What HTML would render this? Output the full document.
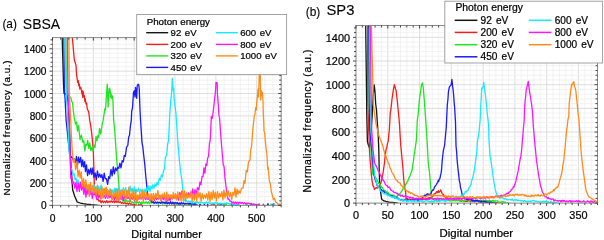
<!DOCTYPE html>
<html><head><meta charset="utf-8"><style>
html,body{margin:0;padding:0;background:#fff;}
svg{display:block;will-change:transform;}
text{font-family:"Liberation Sans", sans-serif;fill:#000;stroke:#000;stroke-width:0.22px;}
</style></head><body>
<svg width="604" height="240" viewBox="0 0 604 240">
<line x1="60.67" y1="37.60" x2="60.67" y2="205.35" stroke="#efefef" stroke-width="0.8"/>
<line x1="68.84" y1="37.60" x2="68.84" y2="205.35" stroke="#efefef" stroke-width="0.8"/>
<line x1="77.00" y1="37.60" x2="77.00" y2="205.35" stroke="#efefef" stroke-width="0.8"/>
<line x1="85.17" y1="37.60" x2="85.17" y2="205.35" stroke="#efefef" stroke-width="0.8"/>
<line x1="93.34" y1="37.60" x2="93.34" y2="205.35" stroke="#d4d4d4" stroke-width="0.8"/>
<line x1="101.51" y1="37.60" x2="101.51" y2="205.35" stroke="#efefef" stroke-width="0.8"/>
<line x1="109.67" y1="37.60" x2="109.67" y2="205.35" stroke="#efefef" stroke-width="0.8"/>
<line x1="117.84" y1="37.60" x2="117.84" y2="205.35" stroke="#efefef" stroke-width="0.8"/>
<line x1="126.01" y1="37.60" x2="126.01" y2="205.35" stroke="#efefef" stroke-width="0.8"/>
<line x1="134.18" y1="37.60" x2="134.18" y2="205.35" stroke="#d4d4d4" stroke-width="0.8"/>
<line x1="142.35" y1="37.60" x2="142.35" y2="205.35" stroke="#efefef" stroke-width="0.8"/>
<line x1="150.51" y1="37.60" x2="150.51" y2="205.35" stroke="#efefef" stroke-width="0.8"/>
<line x1="158.68" y1="37.60" x2="158.68" y2="205.35" stroke="#efefef" stroke-width="0.8"/>
<line x1="166.85" y1="37.60" x2="166.85" y2="205.35" stroke="#efefef" stroke-width="0.8"/>
<line x1="175.02" y1="37.60" x2="175.02" y2="205.35" stroke="#d4d4d4" stroke-width="0.8"/>
<line x1="183.19" y1="37.60" x2="183.19" y2="205.35" stroke="#efefef" stroke-width="0.8"/>
<line x1="191.35" y1="37.60" x2="191.35" y2="205.35" stroke="#efefef" stroke-width="0.8"/>
<line x1="199.52" y1="37.60" x2="199.52" y2="205.35" stroke="#efefef" stroke-width="0.8"/>
<line x1="207.69" y1="37.60" x2="207.69" y2="205.35" stroke="#efefef" stroke-width="0.8"/>
<line x1="215.86" y1="37.60" x2="215.86" y2="205.35" stroke="#d4d4d4" stroke-width="0.8"/>
<line x1="224.03" y1="37.60" x2="224.03" y2="205.35" stroke="#efefef" stroke-width="0.8"/>
<line x1="232.19" y1="37.60" x2="232.19" y2="205.35" stroke="#efefef" stroke-width="0.8"/>
<line x1="240.36" y1="37.60" x2="240.36" y2="205.35" stroke="#efefef" stroke-width="0.8"/>
<line x1="248.53" y1="37.60" x2="248.53" y2="205.35" stroke="#efefef" stroke-width="0.8"/>
<line x1="256.70" y1="37.60" x2="256.70" y2="205.35" stroke="#d4d4d4" stroke-width="0.8"/>
<line x1="264.86" y1="37.60" x2="264.86" y2="205.35" stroke="#efefef" stroke-width="0.8"/>
<line x1="273.03" y1="37.60" x2="273.03" y2="205.35" stroke="#efefef" stroke-width="0.8"/>
<line x1="52.50" y1="200.88" x2="281.20" y2="200.88" stroke="#efefef" stroke-width="0.8"/>
<line x1="52.50" y1="196.40" x2="281.20" y2="196.40" stroke="#efefef" stroke-width="0.8"/>
<line x1="52.50" y1="191.93" x2="281.20" y2="191.93" stroke="#efefef" stroke-width="0.8"/>
<line x1="52.50" y1="187.46" x2="281.20" y2="187.46" stroke="#efefef" stroke-width="0.8"/>
<line x1="52.50" y1="182.98" x2="281.20" y2="182.98" stroke="#d4d4d4" stroke-width="0.8"/>
<line x1="52.50" y1="178.51" x2="281.20" y2="178.51" stroke="#efefef" stroke-width="0.8"/>
<line x1="52.50" y1="174.04" x2="281.20" y2="174.04" stroke="#efefef" stroke-width="0.8"/>
<line x1="52.50" y1="169.56" x2="281.20" y2="169.56" stroke="#efefef" stroke-width="0.8"/>
<line x1="52.50" y1="165.09" x2="281.20" y2="165.09" stroke="#efefef" stroke-width="0.8"/>
<line x1="52.50" y1="160.62" x2="281.20" y2="160.62" stroke="#d4d4d4" stroke-width="0.8"/>
<line x1="52.50" y1="156.14" x2="281.20" y2="156.14" stroke="#efefef" stroke-width="0.8"/>
<line x1="52.50" y1="151.67" x2="281.20" y2="151.67" stroke="#efefef" stroke-width="0.8"/>
<line x1="52.50" y1="147.20" x2="281.20" y2="147.20" stroke="#efefef" stroke-width="0.8"/>
<line x1="52.50" y1="142.72" x2="281.20" y2="142.72" stroke="#efefef" stroke-width="0.8"/>
<line x1="52.50" y1="138.25" x2="281.20" y2="138.25" stroke="#d4d4d4" stroke-width="0.8"/>
<line x1="52.50" y1="133.78" x2="281.20" y2="133.78" stroke="#efefef" stroke-width="0.8"/>
<line x1="52.50" y1="129.30" x2="281.20" y2="129.30" stroke="#efefef" stroke-width="0.8"/>
<line x1="52.50" y1="124.83" x2="281.20" y2="124.83" stroke="#efefef" stroke-width="0.8"/>
<line x1="52.50" y1="120.36" x2="281.20" y2="120.36" stroke="#efefef" stroke-width="0.8"/>
<line x1="52.50" y1="115.88" x2="281.20" y2="115.88" stroke="#d4d4d4" stroke-width="0.8"/>
<line x1="52.50" y1="111.41" x2="281.20" y2="111.41" stroke="#efefef" stroke-width="0.8"/>
<line x1="52.50" y1="106.94" x2="281.20" y2="106.94" stroke="#efefef" stroke-width="0.8"/>
<line x1="52.50" y1="102.46" x2="281.20" y2="102.46" stroke="#efefef" stroke-width="0.8"/>
<line x1="52.50" y1="97.99" x2="281.20" y2="97.99" stroke="#efefef" stroke-width="0.8"/>
<line x1="52.50" y1="93.52" x2="281.20" y2="93.52" stroke="#d4d4d4" stroke-width="0.8"/>
<line x1="52.50" y1="89.04" x2="281.20" y2="89.04" stroke="#efefef" stroke-width="0.8"/>
<line x1="52.50" y1="84.57" x2="281.20" y2="84.57" stroke="#efefef" stroke-width="0.8"/>
<line x1="52.50" y1="80.10" x2="281.20" y2="80.10" stroke="#efefef" stroke-width="0.8"/>
<line x1="52.50" y1="75.62" x2="281.20" y2="75.62" stroke="#efefef" stroke-width="0.8"/>
<line x1="52.50" y1="71.15" x2="281.20" y2="71.15" stroke="#d4d4d4" stroke-width="0.8"/>
<line x1="52.50" y1="66.68" x2="281.20" y2="66.68" stroke="#efefef" stroke-width="0.8"/>
<line x1="52.50" y1="62.20" x2="281.20" y2="62.20" stroke="#efefef" stroke-width="0.8"/>
<line x1="52.50" y1="57.73" x2="281.20" y2="57.73" stroke="#efefef" stroke-width="0.8"/>
<line x1="52.50" y1="53.26" x2="281.20" y2="53.26" stroke="#efefef" stroke-width="0.8"/>
<line x1="52.50" y1="48.78" x2="281.20" y2="48.78" stroke="#d4d4d4" stroke-width="0.8"/>
<line x1="52.50" y1="44.31" x2="281.20" y2="44.31" stroke="#efefef" stroke-width="0.8"/>
<line x1="52.50" y1="39.84" x2="281.20" y2="39.84" stroke="#efefef" stroke-width="0.8"/>
<clipPath id="clipa"><rect x="52.50" y="37.60" width="228.70" height="167.75"/></clipPath>
<g clip-path="url(#clipa)">
<path d="M52.5,-300.0 L53.6,-262.4 L54.7,-224.9 L55.7,-187.3 L56.8,-149.8 L57.9,-112.2 L59.0,-74.7 L60.0,-37.1 L61.1,0.4 L62.2,38.0 L63.5,84.0 L64.0,93.5 L65.3,93.9 L66.7,94.3 L67.3,97.0 L68.0,102.0 L69.3,124.0 L70.2,150.0 L71.5,175.0 L72.7,190.0 L73.7,193.0 L74.6,196.0 L75.9,199.0 L77.2,202.0 L78.2,202.3 L79.2,202.7 L80.2,203.0 L81.2,203.3 L82.3,203.5 L83.3,203.7 L84.4,203.8 L85.4,204.0 L86.5,204.2 L87.6,204.3 L88.8,204.4 L89.9,204.5 L91.0,204.7 L92.1,204.8 L93.3,204.9 L94.4,205.0 L95.5,205.1 L96.6,205.2 L97.8,205.4 L98.9,205.5 L100.0,205.6 L101.1,205.7 L102.2,205.8 L103.3,205.9 L104.4,206.0 L105.6,206.1 L106.7,206.2 L107.8,206.3 L108.9,206.4 L110.0,206.5 L111.1,206.5 L112.2,206.5 L113.3,206.5 L114.4,206.5 L115.5,206.5 L116.6,206.5 L117.7,206.5 L118.8,206.5 L119.9,206.5 L121.0,206.5 L122.1,206.5 L123.2,206.5 L124.3,206.5 L125.4,206.5 L126.5,206.5 L127.7,206.5 L128.8,206.5 L129.9,206.5 L131.0,206.5 L132.1,206.5 L133.2,206.5 L134.3,206.5 L135.4,206.5 L136.5,206.5 L137.6,206.5 L138.7,206.5 L139.8,206.5 L140.9,206.5 L142.0,206.5 L143.1,206.5 L144.2,206.5 L145.3,206.5 L146.4,206.5 L147.5,206.5 L148.6,206.5 L149.7,206.5 L150.8,206.5 L151.9,206.5 L153.0,206.5 L154.1,206.5 L155.2,206.5 L156.3,206.5 L157.4,206.5 L158.5,206.5 L159.6,206.5 L160.7,206.5 L161.9,206.5 L163.0,206.5 L164.1,206.5 L165.2,206.5 L166.3,206.5 L167.4,206.5 L168.5,206.5 L169.6,206.5 L170.7,206.5 L171.8,206.5 L172.9,206.5 L174.0,206.5 L175.1,206.5 L176.2,206.5 L177.3,206.5 L178.4,206.5 L179.5,206.5 L180.6,206.5 L181.7,206.5 L182.8,206.5 L183.9,206.5 L185.0,206.5 L186.1,206.5 L187.2,206.5 L188.3,206.5 L189.4,206.5 L190.5,206.5 L191.6,206.5 L192.7,206.5 L193.8,206.5 L194.9,206.5 L196.1,206.5 L197.2,206.5 L198.3,206.5 L199.4,206.5 L200.5,206.5 L201.6,206.5 L202.7,206.5 L203.8,206.5 L204.9,206.5 L206.0,206.5 L207.1,206.5 L208.2,206.5 L209.3,206.5 L210.4,206.5 L211.5,206.5 L212.6,206.5 L213.7,206.5 L214.8,206.5 L215.9,206.5 L217.0,206.5 L218.1,206.5 L219.2,206.5 L220.3,206.5 L221.4,206.5 L222.5,206.5 L223.6,206.5 L224.7,206.5 L225.8,206.5 L226.9,206.5 L228.0,206.5 L229.1,206.5 L230.3,206.5 L231.4,206.5 L232.5,206.5 L233.6,206.5 L234.7,206.5 L235.8,206.5 L236.9,206.5 L238.0,206.5 L239.1,206.5 L240.2,206.5 L241.3,206.5 L242.4,206.5 L243.5,206.5 L244.6,206.5 L245.7,206.5 L246.8,206.5 L247.9,206.5 L249.0,206.5 L250.1,206.5 L251.2,206.5 L252.3,206.5 L253.4,206.5 L254.5,206.5 L255.6,206.5 L256.7,206.5 L257.8,206.5 L258.9,206.5 L260.0,206.5 L261.1,206.5 L262.2,206.5 L263.3,206.5 L264.5,206.5 L265.6,206.5 L266.7,206.5 L267.8,206.5 L268.9,206.5 L270.0,206.5 L271.1,206.5 L272.2,206.5 L273.3,206.5 L274.4,206.5 L275.5,206.5 L276.6,206.5 L277.7,206.5 L278.8,206.5 L279.9,206.5 L281.0,206.5" fill="none" stroke="#141414" stroke-width="1.3" stroke-linejoin="round"/>
<path d="M52.5,-300.0 L53.6,-281.2 L54.7,-262.4 L55.8,-243.7 L56.9,-224.9 L58.0,-206.1 L59.1,-187.3 L60.2,-168.6 L61.3,-149.8 L62.5,-131.0 L63.6,-112.2 L64.7,-93.4 L65.8,-74.7 L66.9,-55.9 L68.0,-37.1 L69.1,-18.3 L70.2,0.4 L71.3,19.2 L72.4,38.0 L73.4,49.6 L74.4,60.3 L76.0,65.1 L76.5,74.3 L77.7,82.3 L78.3,80.5 L78.7,85.7 L79.3,84.0 L79.8,89.0 L80.7,87.3 L81.5,90.7 L82.0,94.0 L82.4,91.0 L82.7,97.3 L83.2,91.5 L83.8,97.0 L84.3,95.7 L84.8,101.5 L85.3,99.0 L86.0,104.0 L86.6,103.0 L87.3,109.0 L88.7,111.9 L89.8,120.9 L90.8,126.1 L91.9,135.1 L93.3,150.0 L94.0,172.2 L94.3,183.5 L95.0,194.4 L96.0,194.9 L97.0,199.7 L98.0,199.3 L99.0,201.2 L100.0,200.4 L101.1,202.6 L102.2,200.9 L103.4,202.6 L104.5,201.4 L105.6,202.7 L106.8,200.7 L107.9,202.7 L109.0,201.3 L110.1,202.2 L111.2,200.8 L112.4,202.3 L113.5,200.9 L114.6,202.6 L115.8,201.0 L116.9,202.4 L118.0,201.3 L119.2,202.6 L120.3,201.7 L121.5,203.4 L122.7,202.5 L123.8,203.6 L125.0,202.3 L126.1,204.0 L127.2,202.9 L128.3,204.4 L129.4,203.0 L130.6,204.2 L131.7,203.8 L132.8,205.1 L133.9,204.1 L135.0,204.9 L136.0,204.9 L137.0,205.3 L138.0,205.8 L139.0,204.4 L140.0,206.6 L141.1,203.8 L142.2,206.6 L143.3,206.6 L144.4,206.6 L145.5,206.6 L146.6,206.6 L147.7,206.6 L148.8,206.6 L149.9,206.6 L151.0,206.6 L152.1,206.6 L153.2,206.6 L154.3,206.6 L155.4,206.6 L156.5,206.6 L157.6,206.6 L158.7,206.6 L159.8,206.6 L160.9,206.6 L162.0,206.6 L163.1,206.6 L164.2,206.6 L165.3,206.6 L166.4,206.6 L167.5,206.6 L168.6,206.6 L169.7,206.6 L170.8,206.6 L171.9,206.6 L173.0,206.6 L174.1,204.6 L175.2,206.6 L176.4,206.6 L177.5,206.6 L178.6,206.6 L179.7,204.3 L180.8,204.4 L181.9,206.6 L183.0,206.6 L184.1,206.6 L185.2,206.6 L186.3,206.6 L187.4,206.6 L188.5,206.6 L189.6,203.6 L190.7,206.6 L191.8,206.6 L192.9,206.6 L194.0,203.9 L195.1,206.6 L196.2,206.6 L197.3,206.6 L198.4,206.6 L199.5,206.6 L200.6,206.6 L201.7,206.6 L202.8,206.6 L203.9,206.6 L205.0,206.6 L206.1,206.6 L207.2,206.6 L208.3,206.6 L209.4,206.6 L210.5,206.6 L211.6,204.0 L212.7,206.6 L213.8,203.8 L214.9,205.1 L216.0,206.6 L217.1,206.6 L218.2,203.6 L219.3,206.6 L220.4,206.6 L221.5,204.7 L222.6,206.6 L223.7,204.3 L224.8,203.9 L225.9,206.6 L227.0,206.6 L228.1,206.6 L229.2,206.6 L230.3,206.6 L231.4,206.6 L232.5,206.6 L233.6,204.4 L234.7,206.6 L235.8,206.6 L236.9,204.0 L238.0,206.6 L239.1,206.6 L240.2,206.6 L241.3,206.6 L242.4,206.6 L243.5,206.6 L244.6,206.6 L245.8,206.6 L246.9,206.6 L248.0,206.6 L249.1,206.6 L250.2,206.6 L251.3,206.6 L252.4,206.6 L253.5,206.6 L254.6,206.6 L255.7,206.6 L256.8,206.6 L257.9,206.6 L259.0,204.9 L260.1,206.6 L261.2,206.6 L262.3,206.6 L263.4,204.2 L264.5,206.6 L265.6,206.6 L266.7,206.6 L267.8,206.6 L268.9,206.6 L270.0,206.6 L271.1,206.6 L272.2,206.6 L273.3,206.6 L274.4,206.6 L275.5,206.6 L276.6,206.6 L277.7,206.6 L278.8,206.6 L279.9,204.2 L281.0,206.6" fill="none" stroke="#ff1a1a" stroke-width="1.3" stroke-linejoin="round"/>
<path d="M52.5,-300.0 L53.6,-271.8 L54.7,-243.7 L55.8,-215.5 L56.9,-187.3 L58.0,-159.2 L59.1,-131.0 L60.3,-102.8 L61.4,-74.7 L62.5,-46.5 L63.6,-18.3 L64.7,9.8 L65.8,38.0 L66.3,86.0 L67.0,92.0 L68.5,94.8 L69.6,96.7 L70.7,97.3 L71.6,101.2 L72.5,102.5 L73.3,110.4 L74.4,118.7 L75.5,124.0 L76.5,122.0 L77.5,131.0 L78.6,125.4 L80.0,139.5 L81.4,135.1 L82.8,142.2 L83.8,140.7 L84.8,150.9 L85.8,144.3 L86.7,145.3 L87.7,140.5 L88.8,148.4 L89.8,143.2 L90.8,150.5 L91.9,147.6 L93.0,151.0 L94.0,144.9 L95.0,147.5 L96.0,136.5 L96.9,140.8 L97.8,135.6 L98.7,137.5 L99.5,128.4 L100.8,134.0 L102.0,125.4 L103.0,120.9 L104.2,113.3 L105.0,108.3 L105.6,110.0 L106.1,100.0 L106.7,92.0 L107.2,84.2 L107.7,96.0 L108.1,107.0 L108.6,96.0 L109.2,88.3 L110.0,89.2 L110.5,97.0 L110.9,93.0 L111.7,98.3 L112.5,95.8 L113.0,101.7 L113.3,112.0 L113.6,119.6 L114.5,127.9 L115.3,138.9 L116.7,160.0 L117.8,170.4 L119.0,186.5 L120.0,194.7 L121.0,198.1 L122.0,197.7 L123.0,201.2 L124.1,199.8 L125.2,202.1 L126.3,200.0 L127.4,201.5 L128.5,201.1 L129.5,202.1 L130.6,200.9 L131.7,203.0 L132.8,201.9 L133.9,202.8 L135.0,201.6 L136.1,203.4 L137.2,201.7 L138.3,203.1 L139.4,201.7 L140.6,203.5 L141.7,202.0 L142.8,203.4 L143.9,202.3 L145.0,203.3 L146.1,201.8 L147.2,203.4 L148.3,201.8 L149.4,203.7 L150.6,202.0 L151.7,203.1 L152.8,202.0 L153.9,203.5 L155.0,202.7 L156.1,203.3 L157.2,202.9 L158.3,204.1 L159.4,202.6 L160.6,203.4 L161.7,202.8 L162.8,204.0 L163.9,202.9 L165.0,203.9 L166.1,203.0 L167.2,203.9 L168.3,202.9 L169.4,203.5 L170.6,202.5 L171.7,203.6 L172.8,203.2 L173.9,203.9 L175.0,202.7 L176.1,204.6 L177.2,202.8 L178.3,204.4 L179.4,203.4 L180.6,204.0 L181.7,203.5 L182.8,204.4 L183.9,203.2 L185.0,204.4 L186.0,203.4 L187.0,204.5 L188.0,203.6 L189.0,204.6 L190.0,204.4 L191.0,205.1 L192.0,205.6 L193.0,206.1 L194.0,206.6 L195.1,206.6 L196.2,206.6 L197.3,206.6 L198.4,206.6 L199.5,206.6 L200.6,204.2 L201.7,206.6 L202.8,206.6 L203.9,206.6 L205.0,206.6 L206.1,206.6 L207.2,206.6 L208.3,206.6 L209.4,206.6 L210.5,206.6 L211.6,206.6 L212.7,206.6 L213.8,206.6 L214.9,206.6 L216.0,206.6 L217.1,206.6 L218.2,206.6 L219.3,203.8 L220.4,206.6 L221.5,206.6 L222.6,206.6 L223.7,206.6 L224.8,204.2 L225.9,203.8 L227.0,206.6 L228.1,206.6 L229.2,206.6 L230.3,206.6 L231.4,206.6 L232.5,206.6 L233.6,206.6 L234.7,206.6 L235.8,206.6 L236.9,206.6 L238.1,204.0 L239.2,206.6 L240.3,206.6 L241.4,206.6 L242.5,206.6 L243.6,206.6 L244.7,206.6 L245.8,206.6 L246.9,204.2 L248.0,206.6 L249.1,206.6 L250.2,206.6 L251.3,206.6 L252.4,206.6 L253.5,204.5 L254.6,206.6 L255.7,206.6 L256.8,206.6 L257.9,206.6 L259.0,203.7 L260.1,206.6 L261.2,206.6 L262.3,206.6 L263.4,206.6 L264.5,206.6 L265.6,206.6 L266.7,206.6 L267.8,206.6 L268.9,206.6 L270.0,206.6 L271.1,204.1 L272.2,206.6 L273.3,206.6 L274.4,206.6 L275.5,206.6 L276.6,206.6 L277.7,206.6 L278.8,206.6 L279.9,206.6 L281.0,206.6" fill="none" stroke="#1ee61e" stroke-width="1.3" stroke-linejoin="round"/>
<path d="M52.5,-300.0 L53.6,-266.2 L54.8,-232.4 L55.9,-198.6 L57.1,-164.8 L58.2,-131.0 L59.3,-97.2 L60.5,-63.4 L61.6,-29.6 L62.8,4.2 L63.9,38.0 L64.3,84.0 L64.7,94.0 L65.2,101.0 L66.1,120.0 L67.2,130.4 L68.2,140.8 L69.8,154.5 L70.9,157.3 L72.0,156.8 L73.2,160.0 L74.4,159.0 L75.5,162.3 L76.5,156.3 L77.5,165.2 L78.6,157.1 L79.6,162.6 L80.7,157.4 L81.7,166.5 L82.7,159.9 L83.6,167.0 L84.6,161.6 L85.5,171.5 L86.5,164.9 L87.6,175.6 L88.7,169.5 L89.7,174.0 L90.8,168.2 L91.8,174.7 L92.9,167.9 L94.0,177.4 L95.1,172.9 L96.3,179.8 L97.4,170.9 L98.6,177.2 L99.7,173.9 L100.8,177.4 L101.9,174.6 L103.1,181.4 L104.2,173.2 L105.3,178.8 L106.4,178.6 L107.6,184.3 L108.7,176.7 L109.7,178.6 L111.0,169.3 L112.1,175.9 L113.3,166.8 L114.4,173.9 L115.6,168.0 L116.7,170.6 L117.8,167.3 L118.8,168.3 L119.9,163.1 L121.0,167.9 L122.2,160.7 L123.3,161.8 L124.3,155.4 L125.3,156.3 L126.5,147.4 L127.8,145.5 L128.7,137.0 L129.5,135.3 L130.4,126.2 L131.3,120.3 L131.7,111.0 L132.5,108.0 L133.0,100.0 L133.5,92.5 L134.3,90.8 L135.0,97.0 L135.5,87.5 L136.0,90.0 L136.7,98.3 L137.2,85.8 L138.0,84.2 L138.8,84.7 L139.3,90.0 L139.7,101.7 L140.0,110.0 L140.5,119.5 L142.0,142.6 L142.8,146.7 L143.7,155.1 L144.7,163.6 L145.8,176.5 L147.2,189.7 L148.0,198.9 L149.0,198.3 L150.0,200.8 L151.0,199.9 L152.0,202.4 L153.1,201.6 L154.2,203.0 L155.3,202.0 L156.4,203.1 L157.5,201.9 L158.6,202.8 L159.7,202.2 L160.8,203.2 L161.9,201.7 L163.0,202.7 L164.0,202.1 L165.1,203.4 L166.2,201.6 L167.3,203.6 L168.4,202.5 L169.5,203.9 L170.6,201.7 L171.7,204.1 L172.8,202.1 L173.9,203.4 L175.0,202.4 L176.1,203.3 L177.1,202.4 L178.2,204.2 L179.3,202.9 L180.4,204.0 L181.4,202.4 L182.5,203.7 L183.6,203.0 L184.6,204.1 L185.7,203.3 L186.8,203.7 L187.9,203.1 L188.9,204.2 L190.0,203.0 L191.2,204.4 L192.4,203.7 L193.6,204.7 L194.8,203.5 L196.0,205.0 L197.0,205.0 L198.0,205.6 L199.0,206.1 L200.0,204.4 L201.1,206.6 L202.2,206.6 L203.3,206.6 L204.4,204.3 L205.5,206.6 L206.6,206.6 L207.7,204.3 L208.8,206.6 L209.9,206.6 L210.9,206.6 L212.0,206.6 L213.1,206.6 L214.2,206.6 L215.3,206.6 L216.4,206.6 L217.5,206.6 L218.6,206.6 L219.7,206.6 L220.8,203.8 L221.9,206.6 L223.0,206.6 L224.1,206.6 L225.2,206.6 L226.3,206.6 L227.4,206.6 L228.5,206.6 L229.6,206.6 L230.6,206.6 L231.7,204.1 L232.8,206.6 L233.9,206.6 L235.0,206.6 L236.1,204.1 L237.2,206.6 L238.3,206.6 L239.4,206.6 L240.5,206.6 L241.6,206.6 L242.7,206.6 L243.8,206.6 L244.9,206.6 L246.0,206.6 L247.1,206.6 L248.2,206.6 L249.3,206.6 L250.4,206.6 L251.4,203.6 L252.5,206.6 L253.6,206.6 L254.7,206.6 L255.8,206.6 L256.9,206.6 L258.0,206.6 L259.1,206.6 L260.2,206.6 L261.3,206.6 L262.4,206.6 L263.5,206.6 L264.6,206.6 L265.7,206.6 L266.8,206.6 L267.9,203.7 L269.0,206.6 L270.1,206.6 L271.1,206.6 L272.2,206.6 L273.3,203.8 L274.4,206.6 L275.5,206.6 L276.6,206.6 L277.7,206.6 L278.8,206.6 L279.9,206.6 L281.0,206.6" fill="none" stroke="#1a1aff" stroke-width="1.3" stroke-linejoin="round"/>
<path d="M52.5,-300.0 L53.6,-269.3 L54.7,-238.5 L55.9,-207.8 L57.0,-177.1 L58.1,-146.4 L59.2,-115.6 L60.3,-84.9 L61.4,-54.2 L62.6,-23.5 L63.7,7.3 L64.8,38.0 L66.3,94.0 L67.3,110.0 L68.2,130.0 L69.0,150.0 L69.9,157.9 L70.8,167.4 L71.9,169.8 L72.9,175.1 L74.0,173.7 L75.0,179.5 L76.0,178.0 L77.0,184.2 L78.0,180.0 L79.2,186.2 L80.4,183.5 L81.6,186.3 L82.8,181.8 L84.0,187.6 L85.1,185.5 L86.3,188.9 L87.4,186.0 L88.6,191.9 L89.7,184.7 L90.9,189.4 L92.0,187.5 L93.1,193.5 L94.2,184.9 L95.4,193.7 L96.5,187.0 L97.6,192.1 L98.8,186.5 L99.9,191.4 L101.0,185.1 L102.1,193.3 L103.2,188.9 L104.4,193.9 L105.5,188.0 L106.6,193.1 L107.8,189.5 L108.9,193.4 L110.0,188.7 L111.1,194.0 L112.2,189.9 L113.3,193.9 L114.4,188.5 L115.6,193.8 L116.7,188.7 L117.8,194.0 L118.9,186.9 L120.0,193.0 L121.1,189.6 L122.2,194.5 L123.3,187.6 L124.4,193.0 L125.6,187.7 L126.7,192.4 L127.8,190.2 L128.9,194.2 L130.0,186.4 L131.1,191.8 L132.1,188.2 L133.2,193.5 L134.3,186.8 L135.4,194.6 L136.4,189.4 L137.5,191.6 L138.6,188.2 L139.6,192.6 L140.7,189.6 L141.8,191.4 L142.9,189.3 L143.9,193.8 L145.0,188.8 L146.0,192.9 L147.0,187.6 L148.0,190.8 L149.0,185.7 L150.0,191.5 L151.0,186.1 L152.0,188.9 L153.0,184.7 L154.0,188.3 L155.0,184.0 L156.0,186.1 L157.0,182.5 L158.1,184.8 L159.2,178.2 L160.3,180.2 L161.4,175.0 L162.4,177.0 L163.5,170.9 L164.4,169.2 L165.3,157.5 L166.7,155.1 L167.6,144.2 L168.5,141.0 L169.8,114.0 L170.7,100.7 L171.5,94.0 L172.0,85.7 L172.3,78.2 L173.2,90.7 L173.7,88.2 L174.0,95.7 L174.3,100.7 L175.3,107.3 L176.0,114.0 L176.8,126.7 L177.7,141.1 L179.3,159.1 L180.6,172.4 L181.8,179.1 L183.0,191.6 L184.0,199.6 L185.2,201.2 L186.4,200.5 L187.6,201.9 L188.8,201.0 L190.0,202.4 L191.1,201.0 L192.2,202.9 L193.3,201.4 L194.4,202.7 L195.5,201.9 L196.6,203.1 L197.7,201.8 L198.8,203.2 L199.9,201.9 L201.0,202.8 L202.1,202.4 L203.2,203.3 L204.3,202.6 L205.4,203.4 L206.5,201.9 L207.6,203.4 L208.7,202.3 L209.8,203.7 L210.9,202.8 L212.0,203.9 L213.1,202.8 L214.2,203.6 L215.4,202.6 L216.5,203.5 L217.6,202.6 L218.8,203.9 L219.9,203.1 L221.0,204.0 L222.1,203.3 L223.2,204.1 L224.4,203.2 L225.5,203.7 L226.6,202.7 L227.8,203.8 L228.9,203.4 L230.0,204.2 L231.2,203.4 L232.4,204.2 L233.6,203.7 L234.8,204.7 L236.0,203.9 L237.0,205.0 L238.0,205.6 L239.0,204.5 L240.0,206.6 L241.1,206.6 L242.2,206.6 L243.3,206.6 L244.4,206.6 L245.5,206.6 L246.6,206.6 L247.8,206.6 L248.9,206.6 L250.0,206.6 L251.1,206.6 L252.2,206.6 L253.3,206.6 L254.4,206.6 L255.5,206.6 L256.6,206.6 L257.7,206.6 L258.8,206.6 L259.9,206.6 L261.1,206.6 L262.2,206.6 L263.3,206.6 L264.4,206.6 L265.5,206.6 L266.6,206.6 L267.7,206.6 L268.8,206.6 L269.9,206.6 L271.0,206.6 L272.1,206.6 L273.2,206.6 L274.4,203.8 L275.5,206.6 L276.6,206.6 L277.7,206.6 L278.8,206.6 L279.9,206.6 L281.0,206.6" fill="none" stroke="#14ebff" stroke-width="1.3" stroke-linejoin="round"/>
<path d="M52.5,-300.0 L53.6,-274.0 L54.8,-248.0 L55.9,-222.0 L57.1,-196.0 L58.2,-170.0 L59.3,-144.0 L60.5,-118.0 L61.6,-92.0 L62.7,-66.0 L63.9,-40.0 L65.0,-14.0 L66.2,12.0 L67.3,38.0 L68.0,94.0 L69.2,120.0 L70.2,156.8 L70.8,178.7 L71.8,175.5 L72.7,183.9 L73.8,182.0 L74.8,188.1 L75.9,182.4 L77.0,191.4 L78.1,183.0 L79.3,191.3 L80.4,182.1 L81.6,190.2 L82.7,183.7 L83.8,194.4 L84.8,185.0 L85.9,197.1 L87.0,189.4 L88.0,194.0 L89.1,188.0 L90.1,194.7 L91.2,189.4 L92.3,198.6 L93.3,191.8 L94.4,194.9 L95.5,190.7 L96.5,198.9 L97.6,191.9 L98.6,198.1 L99.7,194.8 L100.8,198.8 L102.0,192.1 L103.1,197.2 L104.2,195.2 L105.4,198.4 L106.5,194.4 L107.6,198.4 L108.8,195.2 L109.9,197.7 L111.0,195.0 L112.2,199.4 L113.3,195.0 L114.4,200.2 L115.6,195.7 L116.7,199.9 L117.8,195.0 L118.9,200.3 L120.0,195.1 L121.1,199.6 L122.2,194.9 L123.4,200.5 L124.5,195.9 L125.6,199.0 L126.7,194.8 L127.8,198.7 L128.9,196.8 L130.0,200.9 L131.1,196.3 L132.2,199.4 L133.3,196.1 L134.5,200.5 L135.6,196.7 L136.7,201.0 L137.8,196.6 L138.9,199.3 L140.0,196.0 L141.1,199.2 L142.2,195.7 L143.3,198.8 L144.4,196.7 L145.6,199.7 L146.7,197.7 L147.8,199.4 L148.9,197.1 L150.0,200.0 L151.1,197.4 L152.2,200.1 L153.3,196.2 L154.4,200.5 L155.6,195.7 L156.7,199.5 L157.8,197.9 L158.9,199.0 L160.0,196.2 L161.1,200.9 L162.2,195.4 L163.3,199.7 L164.4,196.5 L165.6,201.3 L166.7,197.1 L167.8,201.0 L168.9,197.4 L170.0,200.7 L171.1,196.7 L172.2,198.7 L173.2,196.6 L174.3,198.3 L175.4,195.8 L176.5,199.6 L177.6,194.5 L178.7,200.1 L179.8,192.3 L180.8,196.5 L181.9,191.1 L183.0,197.0 L184.1,193.8 L185.2,196.4 L186.3,192.9 L187.4,196.1 L188.5,192.8 L189.5,196.6 L190.6,192.5 L191.7,195.4 L192.8,188.8 L193.9,198.0 L195.0,189.7 L196.3,193.5 L197.5,187.6 L198.8,190.0 L199.9,182.1 L200.9,184.8 L202.0,176.6 L203.0,176.6 L204.0,167.8 L204.9,173.1 L205.9,163.8 L206.8,165.4 L207.6,158.4 L208.5,156.3 L209.4,144.2 L210.3,139.6 L211.3,116.5 L212.2,118.4 L213.5,109.3 L214.0,104.3 L214.7,97.7 L215.2,94.3 L215.7,87.7 L216.0,82.3 L216.6,82.5 L217.2,83.0 L217.4,94.3 L217.7,96.0 L218.0,101.0 L218.5,107.7 L219.0,116.0 L219.5,117.4 L221.0,138.8 L222.3,154.0 L223.2,164.5 L224.1,166.6 L225.0,178.5 L226.6,190.8 L228.0,199.2 L229.0,199.0 L230.0,201.3 L231.0,201.1 L232.1,202.8 L233.2,201.9 L234.4,203.2 L235.5,202.0 L236.6,203.2 L237.7,202.3 L238.8,203.5 L239.9,202.2 L241.1,203.4 L242.2,202.4 L243.3,203.9 L244.4,202.7 L245.5,204.1 L246.6,203.1 L247.8,203.6 L248.9,203.2 L250.0,204.0 L251.2,203.5 L252.4,204.6 L253.6,203.8 L254.8,204.6 L256.0,204.3 L257.0,204.3 L258.0,205.6 L259.0,204.2 L260.0,206.6 L261.1,206.6 L262.2,206.6 L263.3,206.6 L264.4,206.6 L265.5,206.6 L266.6,206.6 L267.7,206.6 L268.8,206.6 L269.9,206.6 L271.1,206.6 L272.2,206.6 L273.3,206.6 L274.4,206.6 L275.5,206.6 L276.6,206.6 L277.7,206.6 L278.8,206.6 L279.9,206.6 L281.0,206.6" fill="none" stroke="#ff14ff" stroke-width="1.3" stroke-linejoin="round"/>
<path d="M52.5,-300.0 L53.6,-277.5 L54.7,-254.9 L55.8,-232.4 L56.9,-209.9 L58.0,-187.3 L59.1,-164.8 L60.2,-142.3 L61.2,-119.7 L62.3,-97.2 L63.4,-74.7 L64.5,-52.1 L65.6,-29.6 L66.7,-7.1 L67.8,15.5 L68.9,38.0 L69.3,94.0 L70.7,120.0 L71.3,134.6 L72.3,151.2 L72.3,150.7 L73.4,162.2 L74.5,158.9 L75.6,169.5 L77.0,161.4 L78.0,176.6 L79.1,170.4 L80.2,178.0 L81.2,171.9 L82.4,186.6 L83.5,178.4 L84.7,187.2 L85.8,180.0 L87.0,188.9 L88.2,184.4 L89.3,196.4 L90.5,182.4 L91.7,192.2 L92.8,185.5 L94.0,193.4 L95.1,186.8 L96.3,194.9 L97.4,185.2 L98.5,194.3 L99.7,189.0 L100.8,198.7 L101.9,186.4 L103.0,198.1 L104.2,188.4 L105.3,196.3 L106.4,187.2 L107.6,198.4 L108.7,190.8 L109.9,195.6 L111.0,189.3 L112.1,199.6 L113.3,193.2 L114.4,197.0 L115.6,188.9 L116.7,200.7 L117.8,188.8 L118.9,200.3 L120.0,191.0 L121.1,198.5 L122.2,190.2 L123.4,195.9 L124.5,190.5 L125.6,200.8 L126.7,191.1 L127.8,197.7 L128.9,187.1 L130.0,200.3 L131.1,192.9 L132.2,198.4 L133.3,189.3 L134.5,199.8 L135.6,190.0 L136.7,201.7 L137.8,194.6 L138.9,198.6 L140.0,193.0 L141.1,198.7 L142.2,190.1 L143.3,201.6 L144.4,192.6 L145.6,198.2 L146.7,192.4 L147.8,198.9 L148.9,193.9 L150.0,200.7 L151.1,193.4 L152.2,201.2 L153.3,193.3 L154.4,198.8 L155.6,193.5 L156.7,198.2 L157.8,190.7 L158.9,198.3 L160.0,194.8 L161.1,200.6 L162.2,194.0 L163.3,197.7 L164.4,192.9 L165.6,201.4 L166.7,192.2 L167.8,199.6 L168.9,194.5 L170.0,197.8 L171.1,194.7 L172.2,199.2 L173.3,192.5 L174.4,198.2 L175.6,193.7 L176.7,199.8 L177.8,192.0 L178.9,197.9 L180.0,194.3 L181.1,200.9 L182.2,191.0 L183.3,201.1 L184.4,190.6 L185.6,201.1 L186.7,193.1 L187.8,198.3 L188.9,194.6 L190.0,197.8 L191.1,191.1 L192.2,201.0 L193.3,193.5 L194.4,200.0 L195.6,192.8 L196.7,201.0 L197.8,190.9 L198.9,197.5 L200.0,192.6 L201.1,201.1 L202.2,193.6 L203.3,198.9 L204.4,194.9 L205.6,198.2 L206.7,193.7 L207.8,199.9 L208.9,191.6 L210.0,201.4 L211.1,192.2 L212.1,199.3 L213.2,190.5 L214.3,198.2 L215.4,192.1 L216.4,201.0 L217.5,191.7 L218.6,198.0 L219.6,193.4 L220.7,196.6 L221.8,191.6 L222.9,200.0 L223.9,190.1 L225.0,198.0 L226.1,192.1 L227.2,196.0 L228.3,190.8 L229.4,196.9 L230.6,192.7 L231.7,199.3 L232.8,192.5 L233.9,195.3 L235.0,188.0 L236.0,197.1 L237.0,189.2 L238.0,194.0 L239.0,190.7 L240.2,193.1 L241.5,188.2 L243.0,188.1 L244.0,180.7 L245.0,183.3 L246.2,170.3 L247.3,171.9 L248.5,161.9 L250.0,160.0 L250.8,149.1 L251.5,147.3 L252.9,128.9 L254.2,116.5 L255.0,114.0 L255.8,107.3 L256.4,110.0 L256.7,102.3 L257.5,95.7 L258.0,89.0 L258.5,97.0 L259.0,84.0 L259.5,60.0 L260.1,60.0 L260.4,84.0 L260.8,100.0 L261.3,90.7 L262.0,95.7 L262.5,92.3 L263.0,102.3 L263.3,114.0 L263.8,123.2 L264.0,130.9 L264.6,132.5 L266.0,147.9 L266.9,154.0 L267.7,169.0 L268.2,167.4 L269.3,180.7 L270.3,183.6 L271.4,191.9 L272.4,195.7 L273.4,199.7 L274.5,198.2 L275.6,202.2 L276.6,202.3 L277.6,204.0 L278.7,204.0 L279.9,204.7 L281.0,205.0" fill="none" stroke="#ff8c1a" stroke-width="1.3" stroke-linejoin="round"/>
</g>
<rect x="52.50" y="37.60" width="228.70" height="167.75" fill="none" stroke="#888" stroke-width="1"/>
<path d="M52.50,205.35v3M52.50,37.60v3M60.67,205.35v2M60.67,37.60v2M68.84,205.35v2M68.84,37.60v2M77.00,205.35v2M77.00,37.60v2M85.17,205.35v2M85.17,37.60v2M93.34,205.35v3M93.34,37.60v3M101.51,205.35v2M101.51,37.60v2M109.67,205.35v2M109.67,37.60v2M117.84,205.35v2M117.84,37.60v2M126.01,205.35v2M126.01,37.60v2M134.18,205.35v3M134.18,37.60v3M142.35,205.35v2M142.35,37.60v2M150.51,205.35v2M150.51,37.60v2M158.68,205.35v2M158.68,37.60v2M166.85,205.35v2M166.85,37.60v2M175.02,205.35v3M175.02,37.60v3M183.19,205.35v2M183.19,37.60v2M191.35,205.35v2M191.35,37.60v2M199.52,205.35v2M199.52,37.60v2M207.69,205.35v2M207.69,37.60v2M215.86,205.35v3M215.86,37.60v3M224.03,205.35v2M224.03,37.60v2M232.19,205.35v2M232.19,37.60v2M240.36,205.35v2M240.36,37.60v2M248.53,205.35v2M248.53,37.60v2M256.70,205.35v3M256.70,37.60v3M264.86,205.35v2M264.86,37.60v2M273.03,205.35v2M273.03,37.60v2M281.20,205.35v2M281.20,37.60v2M52.50,205.35h-3M281.20,205.35h-3M52.50,200.88h-2M281.20,200.88h-2M52.50,196.40h-2M281.20,196.40h-2M52.50,191.93h-2M281.20,191.93h-2M52.50,187.46h-2M281.20,187.46h-2M52.50,182.98h-3M281.20,182.98h-3M52.50,178.51h-2M281.20,178.51h-2M52.50,174.04h-2M281.20,174.04h-2M52.50,169.56h-2M281.20,169.56h-2M52.50,165.09h-2M281.20,165.09h-2M52.50,160.62h-3M281.20,160.62h-3M52.50,156.14h-2M281.20,156.14h-2M52.50,151.67h-2M281.20,151.67h-2M52.50,147.20h-2M281.20,147.20h-2M52.50,142.72h-2M281.20,142.72h-2M52.50,138.25h-3M281.20,138.25h-3M52.50,133.78h-2M281.20,133.78h-2M52.50,129.30h-2M281.20,129.30h-2M52.50,124.83h-2M281.20,124.83h-2M52.50,120.36h-2M281.20,120.36h-2M52.50,115.88h-3M281.20,115.88h-3M52.50,111.41h-2M281.20,111.41h-2M52.50,106.94h-2M281.20,106.94h-2M52.50,102.46h-2M281.20,102.46h-2M52.50,97.99h-2M281.20,97.99h-2M52.50,93.52h-3M281.20,93.52h-3M52.50,89.04h-2M281.20,89.04h-2M52.50,84.57h-2M281.20,84.57h-2M52.50,80.10h-2M281.20,80.10h-2M52.50,75.62h-2M281.20,75.62h-2M52.50,71.15h-3M281.20,71.15h-3M52.50,66.68h-2M281.20,66.68h-2M52.50,62.20h-2M281.20,62.20h-2M52.50,57.73h-2M281.20,57.73h-2M52.50,53.26h-2M281.20,53.26h-2M52.50,48.78h-3M281.20,48.78h-3M52.50,44.31h-2M281.20,44.31h-2M52.50,39.84h-2M281.20,39.84h-2" stroke="#333" stroke-width="0.9" fill="none"/>
<text x="52.50" y="221.65" font-size="10.3" text-anchor="middle">0</text>
<text x="93.34" y="221.65" font-size="10.3" text-anchor="middle">100</text>
<text x="134.18" y="221.65" font-size="10.3" text-anchor="middle">200</text>
<text x="175.02" y="221.65" font-size="10.3" text-anchor="middle">300</text>
<text x="215.86" y="221.65" font-size="10.3" text-anchor="middle">400</text>
<text x="256.70" y="221.65" font-size="10.3" text-anchor="middle">500</text>
<text x="46.50" y="209.35" font-size="10.1" text-anchor="end">0</text>
<text x="46.50" y="186.98" font-size="10.1" text-anchor="end">200</text>
<text x="46.50" y="164.62" font-size="10.1" text-anchor="end">400</text>
<text x="46.50" y="142.25" font-size="10.1" text-anchor="end">600</text>
<text x="46.50" y="119.88" font-size="10.1" text-anchor="end">800</text>
<text x="46.50" y="97.52" font-size="10.1" text-anchor="end">1000</text>
<text x="46.50" y="75.15" font-size="10.1" text-anchor="end">1200</text>
<text x="46.50" y="52.78" font-size="10.1" text-anchor="end">1400</text>
<line x1="362.36" y1="25.50" x2="362.36" y2="203.10" stroke="#efefef" stroke-width="0.8"/>
<line x1="368.71" y1="25.50" x2="368.71" y2="203.10" stroke="#efefef" stroke-width="0.8"/>
<line x1="375.07" y1="25.50" x2="375.07" y2="203.10" stroke="#efefef" stroke-width="0.8"/>
<line x1="381.42" y1="25.50" x2="381.42" y2="203.10" stroke="#efefef" stroke-width="0.8"/>
<line x1="387.78" y1="25.50" x2="387.78" y2="203.10" stroke="#d4d4d4" stroke-width="0.8"/>
<line x1="394.13" y1="25.50" x2="394.13" y2="203.10" stroke="#efefef" stroke-width="0.8"/>
<line x1="400.49" y1="25.50" x2="400.49" y2="203.10" stroke="#efefef" stroke-width="0.8"/>
<line x1="406.84" y1="25.50" x2="406.84" y2="203.10" stroke="#efefef" stroke-width="0.8"/>
<line x1="413.20" y1="25.50" x2="413.20" y2="203.10" stroke="#efefef" stroke-width="0.8"/>
<line x1="419.55" y1="25.50" x2="419.55" y2="203.10" stroke="#d4d4d4" stroke-width="0.8"/>
<line x1="425.91" y1="25.50" x2="425.91" y2="203.10" stroke="#efefef" stroke-width="0.8"/>
<line x1="432.26" y1="25.50" x2="432.26" y2="203.10" stroke="#efefef" stroke-width="0.8"/>
<line x1="438.62" y1="25.50" x2="438.62" y2="203.10" stroke="#efefef" stroke-width="0.8"/>
<line x1="444.97" y1="25.50" x2="444.97" y2="203.10" stroke="#efefef" stroke-width="0.8"/>
<line x1="451.33" y1="25.50" x2="451.33" y2="203.10" stroke="#d4d4d4" stroke-width="0.8"/>
<line x1="457.68" y1="25.50" x2="457.68" y2="203.10" stroke="#efefef" stroke-width="0.8"/>
<line x1="464.04" y1="25.50" x2="464.04" y2="203.10" stroke="#efefef" stroke-width="0.8"/>
<line x1="470.39" y1="25.50" x2="470.39" y2="203.10" stroke="#efefef" stroke-width="0.8"/>
<line x1="476.75" y1="25.50" x2="476.75" y2="203.10" stroke="#efefef" stroke-width="0.8"/>
<line x1="483.11" y1="25.50" x2="483.11" y2="203.10" stroke="#d4d4d4" stroke-width="0.8"/>
<line x1="489.46" y1="25.50" x2="489.46" y2="203.10" stroke="#efefef" stroke-width="0.8"/>
<line x1="495.82" y1="25.50" x2="495.82" y2="203.10" stroke="#efefef" stroke-width="0.8"/>
<line x1="502.17" y1="25.50" x2="502.17" y2="203.10" stroke="#efefef" stroke-width="0.8"/>
<line x1="508.53" y1="25.50" x2="508.53" y2="203.10" stroke="#efefef" stroke-width="0.8"/>
<line x1="514.88" y1="25.50" x2="514.88" y2="203.10" stroke="#d4d4d4" stroke-width="0.8"/>
<line x1="521.24" y1="25.50" x2="521.24" y2="203.10" stroke="#efefef" stroke-width="0.8"/>
<line x1="527.59" y1="25.50" x2="527.59" y2="203.10" stroke="#efefef" stroke-width="0.8"/>
<line x1="533.95" y1="25.50" x2="533.95" y2="203.10" stroke="#efefef" stroke-width="0.8"/>
<line x1="540.30" y1="25.50" x2="540.30" y2="203.10" stroke="#efefef" stroke-width="0.8"/>
<line x1="546.66" y1="25.50" x2="546.66" y2="203.10" stroke="#d4d4d4" stroke-width="0.8"/>
<line x1="553.01" y1="25.50" x2="553.01" y2="203.10" stroke="#efefef" stroke-width="0.8"/>
<line x1="559.37" y1="25.50" x2="559.37" y2="203.10" stroke="#efefef" stroke-width="0.8"/>
<line x1="565.72" y1="25.50" x2="565.72" y2="203.10" stroke="#efefef" stroke-width="0.8"/>
<line x1="572.08" y1="25.50" x2="572.08" y2="203.10" stroke="#efefef" stroke-width="0.8"/>
<line x1="578.43" y1="25.50" x2="578.43" y2="203.10" stroke="#d4d4d4" stroke-width="0.8"/>
<line x1="584.79" y1="25.50" x2="584.79" y2="203.10" stroke="#efefef" stroke-width="0.8"/>
<line x1="591.14" y1="25.50" x2="591.14" y2="203.10" stroke="#efefef" stroke-width="0.8"/>
<line x1="356.00" y1="198.36" x2="597.50" y2="198.36" stroke="#efefef" stroke-width="0.8"/>
<line x1="356.00" y1="193.63" x2="597.50" y2="193.63" stroke="#efefef" stroke-width="0.8"/>
<line x1="356.00" y1="188.89" x2="597.50" y2="188.89" stroke="#efefef" stroke-width="0.8"/>
<line x1="356.00" y1="184.16" x2="597.50" y2="184.16" stroke="#efefef" stroke-width="0.8"/>
<line x1="356.00" y1="179.42" x2="597.50" y2="179.42" stroke="#d4d4d4" stroke-width="0.8"/>
<line x1="356.00" y1="174.68" x2="597.50" y2="174.68" stroke="#efefef" stroke-width="0.8"/>
<line x1="356.00" y1="169.95" x2="597.50" y2="169.95" stroke="#efefef" stroke-width="0.8"/>
<line x1="356.00" y1="165.21" x2="597.50" y2="165.21" stroke="#efefef" stroke-width="0.8"/>
<line x1="356.00" y1="160.48" x2="597.50" y2="160.48" stroke="#efefef" stroke-width="0.8"/>
<line x1="356.00" y1="155.74" x2="597.50" y2="155.74" stroke="#d4d4d4" stroke-width="0.8"/>
<line x1="356.00" y1="151.00" x2="597.50" y2="151.00" stroke="#efefef" stroke-width="0.8"/>
<line x1="356.00" y1="146.27" x2="597.50" y2="146.27" stroke="#efefef" stroke-width="0.8"/>
<line x1="356.00" y1="141.53" x2="597.50" y2="141.53" stroke="#efefef" stroke-width="0.8"/>
<line x1="356.00" y1="136.80" x2="597.50" y2="136.80" stroke="#efefef" stroke-width="0.8"/>
<line x1="356.00" y1="132.06" x2="597.50" y2="132.06" stroke="#d4d4d4" stroke-width="0.8"/>
<line x1="356.00" y1="127.32" x2="597.50" y2="127.32" stroke="#efefef" stroke-width="0.8"/>
<line x1="356.00" y1="122.59" x2="597.50" y2="122.59" stroke="#efefef" stroke-width="0.8"/>
<line x1="356.00" y1="117.85" x2="597.50" y2="117.85" stroke="#efefef" stroke-width="0.8"/>
<line x1="356.00" y1="113.12" x2="597.50" y2="113.12" stroke="#efefef" stroke-width="0.8"/>
<line x1="356.00" y1="108.38" x2="597.50" y2="108.38" stroke="#d4d4d4" stroke-width="0.8"/>
<line x1="356.00" y1="103.64" x2="597.50" y2="103.64" stroke="#efefef" stroke-width="0.8"/>
<line x1="356.00" y1="98.91" x2="597.50" y2="98.91" stroke="#efefef" stroke-width="0.8"/>
<line x1="356.00" y1="94.17" x2="597.50" y2="94.17" stroke="#efefef" stroke-width="0.8"/>
<line x1="356.00" y1="89.44" x2="597.50" y2="89.44" stroke="#efefef" stroke-width="0.8"/>
<line x1="356.00" y1="84.70" x2="597.50" y2="84.70" stroke="#d4d4d4" stroke-width="0.8"/>
<line x1="356.00" y1="79.96" x2="597.50" y2="79.96" stroke="#efefef" stroke-width="0.8"/>
<line x1="356.00" y1="75.23" x2="597.50" y2="75.23" stroke="#efefef" stroke-width="0.8"/>
<line x1="356.00" y1="70.49" x2="597.50" y2="70.49" stroke="#efefef" stroke-width="0.8"/>
<line x1="356.00" y1="65.76" x2="597.50" y2="65.76" stroke="#efefef" stroke-width="0.8"/>
<line x1="356.00" y1="61.02" x2="597.50" y2="61.02" stroke="#d4d4d4" stroke-width="0.8"/>
<line x1="356.00" y1="56.28" x2="597.50" y2="56.28" stroke="#efefef" stroke-width="0.8"/>
<line x1="356.00" y1="51.55" x2="597.50" y2="51.55" stroke="#efefef" stroke-width="0.8"/>
<line x1="356.00" y1="46.81" x2="597.50" y2="46.81" stroke="#efefef" stroke-width="0.8"/>
<line x1="356.00" y1="42.08" x2="597.50" y2="42.08" stroke="#efefef" stroke-width="0.8"/>
<line x1="356.00" y1="37.34" x2="597.50" y2="37.34" stroke="#d4d4d4" stroke-width="0.8"/>
<line x1="356.00" y1="32.60" x2="597.50" y2="32.60" stroke="#efefef" stroke-width="0.8"/>
<line x1="356.00" y1="27.87" x2="597.50" y2="27.87" stroke="#efefef" stroke-width="0.8"/>
<clipPath id="clipb"><rect x="356.00" y="25.50" width="241.50" height="177.60"/></clipPath>
<g clip-path="url(#clipb)">
<path d="M356.0,-300.0 L356.6,-278.3 L357.3,-256.5 L357.9,-234.8 L358.6,-213.1 L359.2,-191.3 L359.9,-169.6 L360.5,-147.9 L361.2,-126.1 L361.8,-104.4 L362.5,-82.7 L363.1,-60.9 L363.8,-39.2 L364.4,-17.5 L365.1,4.3 L365.7,26.0 L366.5,90.0 L366.8,116.0 L367.4,141.0 L368.2,144.5 L368.8,146.0 L369.3,147.5 L369.8,145.2 L370.3,143.0 L370.9,134.0 L371.5,125.0 L372.2,116.0 L372.7,105.5 L373.2,95.0 L373.7,89.9 L374.2,84.8 L375.0,92.0 L375.7,104.0 L376.5,110.0 L377.0,117.5 L377.5,125.0 L378.2,135.0 L378.8,150.0 L379.1,165.0 L379.5,180.0 L380.2,189.0 L380.9,194.1 L381.7,199.2 L382.3,199.7 L383.0,200.2 L383.6,200.8 L384.2,200.9 L384.8,201.1 L385.4,201.2 L386.0,201.4 L386.7,201.6 L387.3,201.7 L387.9,201.9 L388.5,202.0 L389.1,202.2 L389.8,202.3 L390.4,202.3 L391.1,202.4 L391.8,202.4 L392.4,202.5 L393.1,202.5 L393.7,202.6 L394.4,202.6 L395.1,202.7 L395.7,202.7 L396.4,202.8 L397.0,203.0 L397.6,203.2 L398.3,203.4 L398.9,203.6 L399.5,203.7 L400.1,203.9 L400.8,204.1 L401.4,204.3 L402.0,204.5 L402.6,204.5 L403.3,204.5 L403.9,204.5 L404.5,204.5 L405.2,204.5 L405.8,204.5 L406.4,204.5 L407.1,204.5 L407.7,204.5 L408.4,204.5 L409.0,204.5 L409.6,204.5 L410.3,204.5 L410.9,204.5 L411.5,204.5 L412.2,204.5 L412.8,204.5 L413.4,204.5 L414.1,204.5 L414.7,204.5 L415.3,204.5 L416.0,204.5 L416.6,204.5 L417.2,204.5 L417.9,204.5 L418.5,204.5 L419.1,204.5 L419.8,204.5 L420.4,204.5 L421.1,204.5 L421.7,204.5 L422.3,204.5 L423.0,204.5 L423.6,204.5 L424.2,204.5 L424.9,204.5 L425.5,204.5 L426.1,204.5 L426.8,204.5 L427.4,204.5 L428.0,204.5 L428.7,204.5 L429.3,204.5 L429.9,204.5 L430.6,204.5 L431.2,204.5 L431.8,204.5 L432.5,204.5 L433.1,204.5 L433.8,204.5 L434.4,204.5 L435.0,204.5 L435.7,204.5 L436.3,204.5 L436.9,204.5 L437.6,204.5 L438.2,204.5 L438.8,204.5 L439.5,204.5 L440.1,204.5 L440.7,204.5 L441.4,204.5 L442.0,204.5 L442.6,204.5 L443.3,204.5 L443.9,204.5 L444.5,204.5 L445.2,204.5 L445.8,204.5 L446.5,204.5 L447.1,204.5 L447.7,204.5 L448.4,204.5 L449.0,204.5 L449.6,204.5 L450.3,204.5 L450.9,204.5 L451.5,204.5 L452.2,204.5 L452.8,204.5 L453.4,204.5 L454.1,204.5 L454.7,204.5 L455.3,204.5 L456.0,204.5 L456.6,204.5 L457.3,204.5 L457.9,204.5 L458.5,204.5 L459.2,204.5 L459.8,204.5 L460.4,204.5 L461.1,204.5 L461.7,204.5 L462.3,204.5 L463.0,204.5 L463.6,204.5 L464.2,204.5 L464.9,204.5 L465.5,204.5 L466.1,204.5 L466.8,204.5 L467.4,204.5 L468.0,204.5 L468.7,204.5 L469.3,204.5 L470.0,204.5 L470.6,204.5 L471.2,204.5 L471.9,204.5 L472.5,204.5 L473.1,204.5 L473.8,204.5 L474.4,204.5 L475.0,204.5 L475.7,204.5 L476.3,204.5 L476.9,204.5 L477.6,204.5 L478.2,204.5 L478.8,204.5 L479.5,204.5 L480.1,204.5 L480.7,204.5 L481.4,204.5 L482.0,204.5 L482.7,204.5 L483.3,204.5 L483.9,204.5 L484.6,204.5 L485.2,204.5 L485.8,204.5 L486.5,204.5 L487.1,204.5 L487.7,204.5 L488.4,204.5 L489.0,204.5 L489.6,204.5 L490.3,204.5 L490.9,204.5 L491.5,204.5 L492.2,204.5 L492.8,204.5 L493.4,204.5 L494.1,204.5 L494.7,204.5 L495.4,204.5 L496.0,204.5 L496.6,204.5 L497.3,204.5 L497.9,204.5 L498.5,204.5 L499.2,204.5 L499.8,204.5 L500.4,204.5 L501.1,204.5 L501.7,204.5 L502.3,204.5 L503.0,204.5 L503.6,204.5 L504.2,204.5 L504.9,204.5 L505.5,204.5 L506.2,204.5 L506.8,204.5 L507.4,204.5 L508.1,204.5 L508.7,204.5 L509.3,204.5 L510.0,204.5 L510.6,204.5 L511.2,204.5 L511.9,204.5 L512.5,204.5 L513.1,204.5 L513.8,204.5 L514.4,204.5 L515.0,204.5 L515.7,204.5 L516.3,204.5 L516.9,204.5 L517.6,204.5 L518.2,204.5 L518.9,204.5 L519.5,204.5 L520.1,204.5 L520.8,204.5 L521.4,204.5 L522.0,204.5 L522.7,204.5 L523.3,204.5 L523.9,204.5 L524.6,204.5 L525.2,204.5 L525.8,204.5 L526.5,204.5 L527.1,204.5 L527.7,204.5 L528.4,204.5 L529.0,204.5 L529.6,204.5 L530.3,204.5 L530.9,204.5 L531.6,204.5 L532.2,204.5 L532.8,204.5 L533.5,204.5 L534.1,204.5 L534.7,204.5 L535.4,204.5 L536.0,204.5 L536.6,204.5 L537.3,204.5 L537.9,204.5 L538.5,204.5 L539.2,204.5 L539.8,204.5 L540.4,204.5 L541.1,204.5 L541.7,204.5 L542.3,204.5 L543.0,204.5 L543.6,204.5 L544.3,204.5 L544.9,204.5 L545.5,204.5 L546.2,204.5 L546.8,204.5 L547.4,204.5 L548.1,204.5 L548.7,204.5 L549.3,204.5 L550.0,204.5 L550.6,204.5 L551.2,204.5 L551.9,204.5 L552.5,204.5 L553.1,204.5 L553.8,204.5 L554.4,204.5 L555.1,204.5 L555.7,204.5 L556.3,204.5 L557.0,204.5 L557.6,204.5 L558.2,204.5 L558.9,204.5 L559.5,204.5 L560.1,204.5 L560.8,204.5 L561.4,204.5 L562.0,204.5 L562.7,204.5 L563.3,204.5 L563.9,204.5 L564.6,204.5 L565.2,204.5 L565.8,204.5 L566.5,204.5 L567.1,204.5 L567.8,204.5 L568.4,204.5 L569.0,204.5 L569.7,204.5 L570.3,204.5 L570.9,204.5 L571.6,204.5 L572.2,204.5 L572.8,204.5 L573.5,204.5 L574.1,204.5 L574.7,204.5 L575.4,204.5 L576.0,204.5 L576.6,204.5 L577.3,204.5 L577.9,204.5 L578.5,204.5 L579.2,204.5 L579.8,204.5 L580.5,204.5 L581.1,204.5 L581.7,204.5 L582.4,204.5 L583.0,204.5 L583.6,204.5 L584.3,204.5 L584.9,204.5 L585.5,204.5 L586.2,204.5 L586.8,204.5 L587.4,204.5 L588.1,204.5 L588.7,204.5 L589.3,204.5 L590.0,204.5 L590.6,204.5 L591.2,204.5 L591.9,204.5 L592.5,204.5 L593.2,204.5 L593.8,204.5 L594.4,204.5 L595.1,204.5 L595.7,204.5 L596.3,204.5 L597.0,204.5 L597.6,204.5" fill="none" stroke="#141414" stroke-width="1.3" stroke-linejoin="round"/>
<path d="M356.0,-300.0 L356.6,-281.9 L357.3,-263.8 L357.9,-245.7 L358.6,-227.6 L359.2,-209.4 L359.9,-191.3 L360.5,-173.2 L361.2,-155.1 L361.8,-137.0 L362.4,-118.9 L363.1,-100.8 L363.7,-82.7 L364.4,-64.6 L365.0,-46.4 L365.7,-28.3 L366.3,-10.2 L367.0,7.9 L367.6,26.0 L367.8,100.0 L368.7,130.0 L369.5,150.0 L370.1,160.0 L371.0,170.0 L371.4,175.0 L371.9,179.3 L372.5,183.5 L373.1,186.0 L373.8,186.8 L374.4,189.4 L375.1,188.5 L375.9,187.9 L376.6,187.6 L377.3,188.2 L378.0,187.8 L378.7,187.4 L379.4,185.3 L380.2,184.7 L380.9,182.6 L381.4,181.0 L382.0,178.2 L382.6,175.4 L383.1,172.6 L383.8,167.6 L384.5,162.8 L385.1,156.4 L385.6,152.5 L386.1,149.3 L386.8,147.2 L387.5,143.4 L388.2,141.5 L388.8,134.8 L389.4,129.3 L390.2,113.4 L390.8,109.8 L391.3,105.9 L392.0,99.1 L392.8,93.3 L393.3,89.8 L393.8,87.6 L394.4,84.6 L395.0,86.9 L395.5,89.2 L396.1,90.4 L396.8,96.3 L397.5,103.0 L398.2,110.3 L399.0,118.1 L399.6,126.2 L400.1,135.0 L400.7,145.0 L401.2,150.0 L401.8,156.0 L402.3,161.9 L403.0,169.3 L403.6,177.6 L404.3,185.3 L404.9,188.6 L405.5,191.5 L406.1,199.1 L406.8,198.6 L407.4,198.3 L408.1,199.3 L408.7,199.3 L409.4,199.3 L410.0,199.6 L410.6,199.3 L411.2,200.4 L411.9,200.0 L412.5,200.3 L413.1,199.0 L413.8,199.4 L414.4,199.3 L415.0,200.2 L415.6,199.5 L416.2,199.5 L416.9,198.9 L417.5,199.7 L418.1,199.2 L418.8,199.9 L419.4,199.7 L420.0,199.2 L420.6,199.0 L421.2,199.6 L421.9,199.8 L422.5,199.8 L423.1,199.1 L423.8,199.0 L424.4,199.0 L425.0,198.8 L425.7,199.9 L426.3,199.6 L427.0,199.0 L427.7,198.2 L428.3,198.7 L429.0,197.5 L429.7,198.4 L430.3,197.5 L431.0,198.2 L431.7,196.9 L432.3,196.9 L433.0,196.2 L433.6,194.6 L434.3,193.8 L435.0,193.5 L435.7,193.5 L436.3,192.0 L437.0,191.6 L437.7,192.5 L438.3,190.7 L438.9,192.4 L439.5,192.0 L440.1,191.1 L440.7,189.9 L441.4,191.9 L442.0,193.3 L442.7,194.2 L443.3,194.2 L443.9,196.0 L444.6,196.2 L445.2,197.0 L445.8,197.0 L446.4,198.6 L447.1,197.6 L447.7,197.9 L448.3,199.0 L449.0,199.2 L449.6,199.1 L450.3,197.9 L450.9,198.9 L451.6,199.2 L452.2,198.6 L452.9,198.5 L453.5,199.6 L454.2,199.8 L454.8,200.3 L455.5,199.5 L456.1,199.3 L456.8,200.3 L457.4,200.1 L458.1,199.7 L458.7,200.2 L459.4,200.3 L460.0,201.1 L460.6,200.4 L461.3,201.2 L461.9,199.8 L462.6,200.8 L463.2,200.7 L463.9,201.1 L464.5,200.6 L465.2,201.4 L465.8,201.3 L466.5,201.3 L467.1,201.4 L467.7,201.3 L468.4,200.6 L469.0,201.0 L469.7,200.6 L470.3,201.5 L471.0,201.8 L471.6,200.6 L472.3,201.6 L472.9,201.0 L473.5,201.0 L474.2,202.0 L474.8,201.7 L475.5,201.3 L476.1,201.3 L476.8,201.4 L477.4,201.2 L478.1,201.4 L478.7,202.1 L479.4,202.0 L480.0,201.7 L480.6,201.6 L481.2,202.3 L481.9,201.9 L482.5,201.7 L483.1,201.9 L483.8,201.5 L484.4,202.0 L485.0,201.7 L485.6,201.8 L486.2,201.6 L486.9,201.8 L487.5,202.3 L488.1,202.4 L488.8,201.7 L489.4,202.6 L490.0,202.0 L490.6,202.4 L491.2,201.7 L491.9,202.7 L492.5,202.7 L493.1,202.8 L493.8,202.1 L494.4,202.4 L495.0,202.3 L495.6,202.5 L496.2,202.6 L496.9,203.0 L497.5,202.7 L498.1,202.9 L498.8,203.2 L499.4,203.7 L500.0,203.3 L500.6,203.7 L501.2,203.8 L501.9,204.0 L502.5,204.0 L503.1,204.1 L503.8,204.4 L504.4,204.5 L505.0,204.6 L505.6,204.6 L506.3,204.6 L506.9,204.6 L507.5,204.6 L508.2,204.6 L508.8,204.6 L509.4,204.6 L510.1,204.6 L510.7,204.6 L511.3,204.6 L512.0,204.6 L512.6,204.6 L513.2,204.6 L513.9,204.6 L514.5,204.6 L515.1,204.6 L515.8,204.6 L516.4,204.6 L517.1,204.6 L517.7,204.6 L518.3,204.6 L519.0,204.6 L519.6,204.6 L520.2,204.6 L520.9,204.6 L521.5,204.6 L522.1,204.6 L522.8,204.6 L523.4,204.6 L524.0,204.6 L524.7,204.6 L525.3,204.6 L525.9,204.6 L526.6,204.6 L527.2,204.6 L527.8,204.6 L528.5,204.6 L529.1,204.6 L529.7,204.6 L530.4,204.6 L531.0,204.6 L531.6,204.6 L532.3,204.6 L532.9,204.6 L533.5,204.6 L534.2,204.6 L534.8,204.6 L535.4,204.6 L536.1,204.6 L536.7,204.6 L537.3,204.6 L538.0,204.6 L538.6,204.6 L539.2,204.6 L539.9,204.6 L540.5,204.6 L541.2,204.6 L541.8,204.6 L542.4,204.6 L543.1,204.6 L543.7,204.6 L544.3,204.6 L545.0,204.6 L545.6,204.6 L546.2,204.6 L546.9,204.6 L547.5,204.6 L548.1,204.6 L548.8,204.6 L549.4,204.6 L550.0,204.6 L550.7,204.6 L551.3,204.6 L551.9,204.6 L552.6,204.6 L553.2,204.6 L553.8,204.6 L554.5,204.6 L555.1,204.6 L555.7,204.6 L556.4,204.6 L557.0,204.6 L557.6,204.6 L558.3,204.6 L558.9,204.6 L559.5,204.6 L560.2,204.6 L560.8,204.6 L561.4,204.6 L562.1,204.6 L562.7,204.6 L563.4,204.6 L564.0,204.6 L564.6,204.6 L565.3,204.6 L565.9,204.6 L566.5,204.6 L567.2,204.6 L567.8,204.6 L568.4,204.6 L569.1,204.6 L569.7,204.6 L570.3,204.6 L571.0,204.6 L571.6,204.6 L572.2,204.6 L572.9,204.6 L573.5,204.6 L574.1,204.6 L574.8,204.6 L575.4,204.6 L576.0,204.6 L576.7,204.6 L577.3,204.6 L577.9,204.6 L578.6,204.6 L579.2,204.6 L579.8,204.6 L580.5,204.6 L581.1,204.6 L581.7,204.6 L582.4,204.6 L583.0,204.6 L583.6,204.6 L584.3,204.6 L584.9,204.6 L585.5,204.6 L586.2,204.6 L586.8,204.6 L587.5,204.6 L588.1,204.6 L588.7,204.6 L589.4,204.6 L590.0,204.6 L590.6,204.6 L591.3,204.6 L591.9,204.6 L592.5,204.6 L593.2,204.6 L593.8,204.6 L594.4,204.6 L595.1,204.6 L595.7,204.6 L596.3,204.6 L597.0,204.6 L597.6,204.6" fill="none" stroke="#ff1a1a" stroke-width="1.3" stroke-linejoin="round"/>
<path d="M356.0,-300.0 L356.6,-283.7 L357.2,-267.4 L357.9,-251.1 L358.5,-234.8 L359.1,-218.5 L359.7,-202.2 L360.3,-185.9 L361.0,-169.6 L361.6,-153.3 L362.2,-137.0 L362.8,-120.7 L363.4,-104.4 L364.1,-88.1 L364.7,-71.8 L365.3,-55.5 L365.9,-39.2 L366.5,-22.9 L367.2,-6.6 L367.8,9.7 L368.4,26.0 L369.0,100.0 L369.5,115.0 L370.0,130.0 L370.5,140.0 L371.0,150.0 L371.5,158.1 L372.1,165.7 L372.6,174.0 L373.2,174.5 L373.9,175.0 L374.5,175.4 L375.2,176.9 L375.8,177.9 L376.4,178.4 L377.0,180.1 L377.5,181.1 L378.1,181.4 L378.7,183.5 L379.4,183.5 L380.0,184.6 L380.7,186.8 L381.3,186.5 L382.0,187.6 L382.6,187.7 L383.2,189.5 L383.9,190.4 L384.5,190.8 L385.1,190.4 L385.8,191.7 L386.4,192.3 L387.0,191.9 L387.6,192.1 L388.2,192.9 L388.9,194.3 L389.5,194.1 L390.1,194.4 L390.8,194.6 L391.4,195.6 L392.0,195.0 L392.7,195.5 L393.3,195.0 L394.0,195.8 L394.7,195.9 L395.3,196.1 L396.0,197.1 L396.6,196.2 L397.2,197.0 L397.8,195.0 L398.3,195.3 L398.9,194.0 L399.5,194.9 L400.1,193.2 L400.7,192.8 L401.2,191.9 L401.8,191.2 L402.4,189.9 L403.0,188.9 L403.6,187.8 L404.2,186.5 L404.8,186.4 L405.3,185.1 L405.9,184.1 L406.5,183.4 L407.1,181.6 L407.8,181.1 L408.4,179.4 L409.0,177.7 L409.6,176.7 L410.2,175.5 L410.8,173.5 L411.4,171.9 L412.0,170.6 L412.7,165.4 L413.5,160.7 L414.2,154.7 L414.9,150.4 L415.6,145.3 L416.3,140.8 L416.8,131.4 L417.3,120.3 L418.2,114.0 L418.7,108.2 L419.2,101.6 L419.9,96.2 L420.7,91.0 L421.5,84.9 L422.3,82.9 L422.9,85.5 L423.4,88.7 L424.0,96.6 L424.8,107.0 L425.5,116.9 L426.1,125.3 L427.0,139.6 L427.6,150.5 L428.1,160.5 L428.7,166.6 L429.4,171.8 L430.0,178.4 L430.6,186.3 L431.2,192.7 L431.8,196.4 L432.4,198.9 L433.0,199.1 L433.6,199.3 L434.2,200.3 L434.8,200.2 L435.3,200.3 L435.9,200.2 L436.5,201.0 L437.1,200.1 L437.8,200.4 L438.4,200.0 L439.0,200.8 L439.7,200.3 L440.3,200.0 L440.9,199.9 L441.6,199.8 L442.2,200.3 L442.8,200.7 L443.5,200.2 L444.1,200.3 L444.7,200.3 L445.3,201.2 L446.0,200.8 L446.6,199.5 L447.2,200.2 L447.9,200.5 L448.5,200.2 L449.1,200.5 L449.8,200.9 L450.4,201.0 L451.0,200.5 L451.7,200.3 L452.3,200.9 L452.9,200.5 L453.6,200.6 L454.2,200.2 L454.8,200.7 L455.5,200.9 L456.1,200.9 L456.7,200.4 L457.4,200.0 L458.0,200.8 L458.6,199.5 L459.3,200.7 L459.9,200.2 L460.5,201.1 L461.2,201.0 L461.8,200.1 L462.4,201.0 L463.0,200.6 L463.7,201.3 L464.3,199.9 L464.9,200.3 L465.6,200.0 L466.2,199.8 L466.8,200.2 L467.5,200.9 L468.1,200.0 L468.7,200.6 L469.4,201.2 L470.0,200.2 L470.6,200.7 L471.3,200.2 L471.9,201.2 L472.5,201.2 L473.1,199.8 L473.8,199.9 L474.4,201.1 L475.0,200.9 L475.6,200.8 L476.3,201.3 L476.9,200.8 L477.5,200.4 L478.1,200.4 L478.8,200.8 L479.4,201.0 L480.0,200.4 L480.7,199.9 L481.3,200.9 L481.9,200.8 L482.5,201.2 L483.2,200.0 L483.8,200.6 L484.4,201.1 L485.0,200.4 L485.7,200.2 L486.3,200.4 L486.9,200.5 L487.5,201.0 L488.2,200.5 L488.8,201.4 L489.4,200.2 L490.0,201.3 L490.7,200.7 L491.3,201.6 L491.9,201.5 L492.5,200.4 L493.1,201.0 L493.8,200.5 L494.4,201.7 L495.0,200.8 L495.6,200.8 L496.2,200.8 L496.9,200.8 L497.5,200.8 L498.1,202.1 L498.7,201.9 L499.4,202.2 L500.0,202.0 L500.6,202.4 L501.2,202.4 L501.9,201.6 L502.5,201.7 L503.1,202.3 L503.7,201.8 L504.4,202.8 L505.0,202.0 L505.6,202.5 L506.2,202.9 L506.9,203.2 L507.5,203.0 L508.1,203.1 L508.8,203.5 L509.4,203.3 L510.0,203.7 L510.6,203.4 L511.2,203.7 L511.9,203.9 L512.5,204.0 L513.1,204.3 L513.8,204.4 L514.4,204.4 L515.0,204.6 L515.6,204.6 L516.3,204.6 L516.9,204.6 L517.5,204.6 L518.2,204.6 L518.8,204.6 L519.4,204.6 L520.1,204.6 L520.7,204.6 L521.4,204.6 L522.0,204.6 L522.6,204.6 L523.3,204.6 L523.9,204.6 L524.5,204.6 L525.2,204.6 L525.8,204.6 L526.4,204.6 L527.1,204.6 L527.7,204.6 L528.3,204.6 L529.0,204.6 L529.6,204.6 L530.2,204.6 L530.9,204.6 L531.5,204.6 L532.2,204.6 L532.8,204.6 L533.4,204.6 L534.1,204.6 L534.7,204.6 L535.3,204.6 L536.0,204.6 L536.6,204.6 L537.2,204.6 L537.9,204.6 L538.5,204.6 L539.1,204.6 L539.8,204.6 L540.4,204.6 L541.1,204.6 L541.7,204.6 L542.3,204.6 L543.0,204.6 L543.6,204.6 L544.2,204.6 L544.9,204.6 L545.5,204.6 L546.1,204.6 L546.8,204.6 L547.4,204.6 L548.0,204.6 L548.7,204.6 L549.3,204.6 L549.9,204.6 L550.6,204.6 L551.2,204.6 L551.9,204.6 L552.5,204.6 L553.1,204.6 L553.8,204.6 L554.4,204.6 L555.0,204.6 L555.7,204.6 L556.3,204.6 L556.9,204.6 L557.6,204.6 L558.2,204.6 L558.8,204.6 L559.5,204.6 L560.1,204.6 L560.7,204.6 L561.4,204.6 L562.0,204.6 L562.7,204.6 L563.3,204.6 L563.9,204.6 L564.6,204.6 L565.2,204.6 L565.8,204.6 L566.5,204.6 L567.1,204.6 L567.7,204.6 L568.4,204.6 L569.0,204.6 L569.6,204.6 L570.3,204.6 L570.9,204.6 L571.5,204.6 L572.2,204.6 L572.8,204.6 L573.5,204.6 L574.1,204.6 L574.7,204.6 L575.4,204.6 L576.0,204.6 L576.6,204.6 L577.3,204.6 L577.9,204.6 L578.5,204.6 L579.2,204.6 L579.8,204.6 L580.4,204.6 L581.1,204.6 L581.7,204.6 L582.4,204.6 L583.0,204.6 L583.6,204.6 L584.3,204.6 L584.9,204.6 L585.5,204.6 L586.2,204.6 L586.8,204.6 L587.4,204.6 L588.1,204.6 L588.7,204.6 L589.3,204.6 L590.0,204.6 L590.6,204.6 L591.2,204.6 L591.9,204.6 L592.5,204.6 L593.2,204.6 L593.8,204.6 L594.4,204.6 L595.1,204.6 L595.7,204.6 L596.3,204.6 L597.0,204.6 L597.6,204.6" fill="none" stroke="#1ee61e" stroke-width="1.3" stroke-linejoin="round"/>
<path d="M356.0,-300.0 L356.6,-283.7 L357.3,-267.4 L357.9,-251.1 L358.6,-234.8 L359.2,-218.5 L359.9,-202.2 L360.6,-185.9 L361.2,-169.6 L361.9,-153.3 L362.5,-137.0 L363.1,-120.7 L363.8,-104.4 L364.4,-88.1 L365.1,-71.8 L365.8,-55.5 L366.4,-39.2 L367.1,-22.9 L367.7,-6.6 L368.4,9.7 L369.0,26.0 L369.4,100.0 L369.8,130.0 L370.4,136.7 L371.1,143.3 L371.8,150.0 L372.5,158.1 L373.2,167.2 L373.9,174.5 L374.6,177.3 L375.3,179.7 L375.9,181.6 L376.6,183.3 L377.3,186.0 L377.9,186.0 L378.6,187.2 L379.2,187.4 L379.8,188.4 L380.4,188.7 L381.1,189.2 L381.7,190.2 L382.3,190.8 L383.0,191.2 L383.6,190.9 L384.3,192.0 L384.9,192.8 L385.6,193.3 L386.2,193.4 L386.9,193.3 L387.5,194.0 L388.2,194.8 L388.8,195.1 L389.5,195.2 L390.2,196.0 L390.8,195.8 L391.5,196.5 L392.1,195.7 L392.8,196.6 L393.5,197.3 L394.1,196.8 L394.8,198.1 L395.5,197.7 L396.1,197.9 L396.8,198.0 L397.4,198.5 L398.1,198.1 L398.7,198.8 L399.4,199.4 L400.0,199.7 L400.7,200.2 L401.3,199.6 L402.0,199.3 L402.6,200.6 L403.2,200.1 L403.8,200.7 L404.5,199.8 L405.1,199.4 L405.7,199.6 L406.3,200.9 L406.9,200.1 L407.5,199.8 L408.2,200.3 L408.8,200.8 L409.4,199.7 L410.0,200.2 L410.6,200.3 L411.2,200.7 L411.9,199.9 L412.5,200.1 L413.1,200.1 L413.8,200.0 L414.4,199.3 L415.0,199.3 L415.6,199.2 L416.2,199.4 L416.9,198.9 L417.5,200.2 L418.1,199.4 L418.8,200.2 L419.4,199.0 L420.0,199.4 L420.6,199.0 L421.2,199.2 L421.9,198.2 L422.5,197.9 L423.1,196.6 L423.7,196.4 L424.3,195.4 L425.0,195.2 L425.6,195.5 L426.2,195.2 L426.9,194.2 L427.5,193.8 L428.2,195.1 L428.9,194.0 L429.5,194.5 L430.2,195.1 L430.8,193.8 L431.4,192.0 L432.1,190.9 L432.7,189.9 L433.3,190.2 L433.9,188.8 L434.6,187.0 L435.2,186.2 L435.8,185.5 L436.4,184.5 L437.1,183.1 L437.7,182.5 L438.2,180.4 L438.8,181.2 L439.3,178.8 L439.9,178.7 L440.4,175.8 L441.0,173.4 L441.5,170.5 L442.1,162.1 L442.8,155.0 L443.5,149.9 L444.1,147.4 L444.6,145.0 L445.5,135.7 L446.3,126.6 L446.8,115.6 L447.3,104.9 L447.9,99.7 L448.4,92.2 L448.9,89.1 L449.4,87.0 L450.0,86.0 L450.5,85.7 L451.1,84.8 L451.9,79.3 L452.5,85.3 L453.1,89.8 L453.6,94.8 L454.1,101.6 L454.6,107.1 L455.5,122.1 L456.0,145.6 L456.6,151.7 L457.1,159.9 L457.6,165.0 L458.1,169.7 L458.7,174.7 L459.3,180.6 L459.9,182.8 L460.4,187.0 L461.0,189.3 L461.6,191.6 L462.1,194.5 L462.7,195.2 L463.2,197.0 L463.8,197.3 L464.3,197.8 L464.9,198.5 L465.6,198.6 L466.2,198.9 L466.8,199.6 L467.4,199.4 L468.1,199.9 L468.7,199.3 L469.3,199.3 L469.9,199.1 L470.6,199.3 L471.2,200.0 L471.8,199.5 L472.5,200.9 L473.1,200.5 L473.7,200.4 L474.3,201.1 L475.0,200.8 L475.6,200.2 L476.2,201.1 L476.9,200.2 L477.5,200.4 L478.1,201.2 L478.7,200.8 L479.4,200.9 L480.0,201.5 L480.6,202.2 L481.2,201.0 L481.9,201.8 L482.5,201.9 L483.1,202.1 L483.8,201.3 L484.4,201.7 L485.0,201.1 L485.6,202.5 L486.2,202.2 L486.9,201.8 L487.5,202.4 L488.1,202.6 L488.8,202.3 L489.4,202.5 L490.0,202.4 L490.6,202.1 L491.3,202.2 L491.9,202.7 L492.5,203.0 L493.2,203.4 L493.8,203.4 L494.5,203.7 L495.1,203.9 L495.7,204.2 L496.4,204.4 L497.0,204.6 L497.6,204.6 L498.3,204.6 L498.9,204.6 L499.5,204.6 L500.2,204.6 L500.8,204.6 L501.5,204.6 L502.1,204.6 L502.7,204.6 L503.4,204.6 L504.0,204.6 L504.6,204.6 L505.3,204.6 L505.9,204.6 L506.6,204.6 L507.2,204.6 L507.8,204.6 L508.5,204.6 L509.1,204.6 L509.7,204.6 L510.4,204.6 L511.0,204.6 L511.6,204.6 L512.3,204.6 L512.9,204.6 L513.6,204.6 L514.2,204.6 L514.8,204.6 L515.5,204.6 L516.1,204.6 L516.7,204.6 L517.4,204.6 L518.0,204.6 L518.6,204.6 L519.3,204.6 L519.9,204.6 L520.6,204.6 L521.2,204.6 L521.8,204.6 L522.5,204.6 L523.1,204.6 L523.7,204.6 L524.4,204.6 L525.0,204.6 L525.7,204.6 L526.3,204.6 L526.9,204.6 L527.6,204.6 L528.2,204.6 L528.8,204.6 L529.5,204.6 L530.1,204.6 L530.7,204.6 L531.4,204.6 L532.0,204.6 L532.7,204.6 L533.3,204.6 L533.9,204.6 L534.6,204.6 L535.2,204.6 L535.8,204.6 L536.5,204.6 L537.1,204.6 L537.7,204.6 L538.4,204.6 L539.0,204.6 L539.7,204.6 L540.3,204.6 L540.9,204.6 L541.6,204.6 L542.2,204.6 L542.8,204.6 L543.5,204.6 L544.1,204.6 L544.8,204.6 L545.4,204.6 L546.0,204.6 L546.7,204.6 L547.3,204.6 L547.9,204.6 L548.6,204.6 L549.2,204.6 L549.8,204.6 L550.5,204.6 L551.1,204.6 L551.8,204.6 L552.4,204.6 L553.0,204.6 L553.7,204.6 L554.3,204.6 L554.9,204.6 L555.6,204.6 L556.2,204.6 L556.9,204.6 L557.5,204.6 L558.1,204.6 L558.8,204.6 L559.4,204.6 L560.0,204.6 L560.7,204.6 L561.3,204.6 L561.9,204.6 L562.6,204.6 L563.2,204.6 L563.9,204.6 L564.5,204.6 L565.1,204.6 L565.8,204.6 L566.4,204.6 L567.0,204.6 L567.7,204.6 L568.3,204.6 L568.9,204.6 L569.6,204.6 L570.2,204.6 L570.9,204.6 L571.5,204.6 L572.1,204.6 L572.8,204.6 L573.4,204.6 L574.0,204.6 L574.7,204.6 L575.3,204.6 L576.0,204.6 L576.6,204.6 L577.2,204.6 L577.9,204.6 L578.5,204.6 L579.1,204.6 L579.8,204.6 L580.4,204.6 L581.0,204.6 L581.7,204.6 L582.3,204.6 L583.0,204.6 L583.6,204.6 L584.2,204.6 L584.9,204.6 L585.5,204.6 L586.1,204.6 L586.8,204.6 L587.4,204.6 L588.0,204.6 L588.7,204.6 L589.3,204.6 L590.0,204.6 L590.6,204.6 L591.2,204.6 L591.9,204.6 L592.5,204.6 L593.1,204.6 L593.8,204.6 L594.4,204.6 L595.1,204.6 L595.7,204.6 L596.3,204.6 L597.0,204.6 L597.6,204.6" fill="none" stroke="#1a1aff" stroke-width="1.3" stroke-linejoin="round"/>
<path d="M356.0,-300.0 L356.6,-284.5 L357.3,-269.0 L357.9,-253.4 L358.6,-237.9 L359.2,-222.4 L359.9,-206.9 L360.5,-191.3 L361.2,-175.8 L361.8,-160.3 L362.5,-144.8 L363.1,-129.2 L363.8,-113.7 L364.4,-98.2 L365.1,-82.7 L365.7,-67.1 L366.4,-51.6 L367.0,-36.1 L367.7,-20.6 L368.3,-5.0 L369.0,10.5 L369.6,26.0 L370.2,100.0 L371.0,130.0 L371.5,136.7 L372.1,143.3 L372.6,150.0 L373.2,158.1 L373.9,166.3 L374.5,175.4 L375.1,176.9 L375.7,179.2 L376.2,180.8 L376.8,183.7 L377.4,185.3 L378.0,186.5 L378.6,187.2 L379.2,187.9 L379.9,188.7 L380.5,191.1 L381.1,191.3 L381.7,192.1 L382.3,192.5 L383.0,192.5 L383.6,193.5 L384.3,193.9 L384.9,193.6 L385.6,193.3 L386.2,194.6 L386.9,194.0 L387.5,195.5 L388.2,195.2 L388.8,195.0 L389.5,195.0 L390.2,196.7 L390.8,196.3 L391.5,196.4 L392.1,197.5 L392.8,196.8 L393.5,197.6 L394.1,197.0 L394.8,198.2 L395.5,197.5 L396.1,198.3 L396.8,198.6 L397.4,199.2 L398.1,198.5 L398.7,199.8 L399.4,198.8 L400.0,199.9 L400.7,199.9 L401.3,200.4 L402.0,199.9 L402.6,200.9 L403.2,199.4 L403.8,199.7 L404.5,200.8 L405.1,200.5 L405.7,200.0 L406.3,200.7 L406.9,201.1 L407.5,200.9 L408.2,201.5 L408.8,200.4 L409.4,200.2 L410.0,201.0 L410.6,201.2 L411.3,200.3 L411.9,201.7 L412.6,200.6 L413.2,200.4 L413.9,201.5 L414.5,201.7 L415.2,200.9 L415.8,201.0 L416.5,200.7 L417.1,201.5 L417.7,201.5 L418.4,201.3 L419.0,201.2 L419.7,201.4 L420.3,200.7 L421.0,201.1 L421.6,201.2 L422.3,201.8 L422.9,200.7 L423.5,202.0 L424.2,201.6 L424.8,201.2 L425.5,200.9 L426.1,200.8 L426.8,200.9 L427.4,200.7 L428.1,201.3 L428.7,201.2 L429.4,201.8 L430.0,202.0 L430.6,201.2 L431.2,201.7 L431.9,200.7 L432.5,201.8 L433.1,201.7 L433.8,201.5 L434.4,201.6 L435.0,201.0 L435.6,200.5 L436.2,201.0 L436.9,201.3 L437.5,200.3 L438.1,201.4 L438.8,201.0 L439.4,201.3 L440.0,200.6 L440.6,201.1 L441.2,200.2 L441.9,200.4 L442.5,200.5 L443.1,200.0 L443.8,200.6 L444.4,201.0 L445.0,201.0 L445.6,200.9 L446.3,200.8 L446.9,200.4 L447.5,200.2 L448.2,199.4 L448.8,199.7 L449.4,199.4 L450.1,198.9 L450.7,199.7 L451.4,199.8 L452.0,198.8 L452.6,198.6 L453.3,198.6 L453.9,198.9 L454.5,198.1 L455.2,198.8 L455.8,198.8 L456.4,197.8 L457.1,198.8 L457.7,198.7 L458.4,197.8 L459.1,197.6 L459.8,196.6 L460.4,197.3 L461.1,195.6 L461.8,195.7 L462.5,195.8 L463.2,193.9 L463.8,194.4 L464.5,193.7 L465.2,191.8 L465.9,191.4 L466.5,192.0 L467.2,190.3 L467.8,190.5 L468.5,189.5 L469.1,187.8 L469.8,187.0 L470.4,185.1 L471.0,184.7 L471.7,181.0 L472.3,178.9 L473.0,176.7 L473.6,173.5 L474.2,171.5 L474.8,167.6 L475.6,160.3 L476.5,154.8 L477.0,148.6 L477.5,140.9 L478.1,137.6 L478.6,135.2 L479.2,130.3 L479.7,124.5 L480.2,119.5 L480.7,106.8 L481.2,98.5 L481.7,87.9 L482.2,88.3 L482.8,87.7 L483.3,85.3 L483.8,82.4 L484.3,87.3 L484.8,91.2 L485.4,95.1 L485.9,99.6 L486.6,106.1 L487.3,114.3 L488.0,119.6 L488.6,125.6 L489.0,140.6 L489.5,147.5 L490.0,155.2 L490.8,160.2 L491.5,164.6 L492.2,169.8 L492.8,174.6 L493.5,179.1 L494.1,183.2 L494.7,185.6 L495.3,189.9 L495.9,191.8 L496.6,194.1 L497.2,195.9 L497.9,195.5 L498.6,196.6 L499.3,197.4 L500.0,198.2 L500.6,197.1 L501.3,197.8 L501.9,197.3 L502.6,197.2 L503.2,198.4 L503.9,199.1 L504.5,199.0 L505.2,198.3 L505.8,199.2 L506.4,199.0 L507.1,199.8 L507.7,199.6 L508.3,199.7 L509.0,199.5 L509.6,199.7 L510.3,199.9 L510.9,199.6 L511.5,200.0 L512.2,199.1 L512.8,199.8 L513.4,200.7 L514.1,200.1 L514.7,199.9 L515.3,199.7 L516.0,200.3 L516.6,199.7 L517.3,200.7 L517.9,200.4 L518.5,200.2 L519.2,200.5 L519.8,200.3 L520.4,200.3 L521.1,201.0 L521.7,200.8 L522.3,200.6 L523.0,200.7 L523.6,201.8 L524.2,200.6 L524.9,200.6 L525.5,201.4 L526.1,201.6 L526.8,201.3 L527.4,201.8 L528.0,201.6 L528.7,200.9 L529.3,201.4 L529.9,201.8 L530.6,201.0 L531.2,201.6 L531.8,200.9 L532.5,200.9 L533.1,200.7 L533.7,200.7 L534.4,200.8 L535.0,201.1 L535.7,201.6 L536.3,201.2 L536.9,201.2 L537.6,201.7 L538.2,201.7 L538.8,201.8 L539.5,202.3 L540.1,201.6 L540.7,201.6 L541.4,201.9 L542.0,202.2 L542.6,201.6 L543.3,201.1 L543.9,202.1 L544.5,201.2 L545.2,201.8 L545.8,201.1 L546.4,201.0 L547.1,202.2 L547.7,202.3 L548.3,201.7 L549.0,202.3 L549.6,202.6 L550.2,202.6 L550.9,201.3 L551.5,202.3 L552.2,202.4 L552.8,202.5 L553.4,202.8 L554.1,201.7 L554.7,202.4 L555.4,202.7 L556.0,202.2 L556.7,203.1 L557.3,203.2 L558.0,203.1 L558.7,203.5 L559.3,203.7 L560.0,204.0 L560.7,204.1 L561.3,204.4 L562.0,204.6 L562.6,204.6 L563.3,204.6 L563.9,204.6 L564.5,204.6 L565.2,204.6 L565.8,204.6 L566.5,204.6 L567.1,204.6 L567.7,204.6 L568.4,204.6 L569.0,204.6 L569.6,204.6 L570.3,204.6 L570.9,204.6 L571.5,204.6 L572.2,204.6 L572.8,204.6 L573.4,204.6 L574.1,204.6 L574.7,204.6 L575.4,204.6 L576.0,204.6 L576.6,204.6 L577.3,204.6 L577.9,204.6 L578.5,204.6 L579.2,204.6 L579.8,204.6 L580.4,204.6 L581.1,204.6 L581.7,204.6 L582.3,204.6 L583.0,204.6 L583.6,204.6 L584.2,204.6 L584.9,204.6 L585.5,204.6 L586.2,204.6 L586.8,204.6 L587.4,204.6 L588.1,204.6 L588.7,204.6 L589.3,204.6 L590.0,204.6 L590.6,204.6 L591.2,204.6 L591.9,204.6 L592.5,204.6 L593.1,204.6 L593.8,204.6 L594.4,204.6 L595.1,204.6 L595.7,204.6 L596.3,204.6 L597.0,204.6 L597.6,204.6" fill="none" stroke="#14ebff" stroke-width="1.3" stroke-linejoin="round"/>
<path d="M356.0,-300.0 L356.6,-285.8 L357.2,-271.7 L357.9,-257.5 L358.5,-243.3 L359.1,-229.1 L359.7,-215.0 L360.4,-200.8 L361.0,-186.6 L361.6,-172.4 L362.2,-158.3 L362.8,-144.1 L363.5,-129.9 L364.1,-115.7 L364.7,-101.6 L365.3,-87.4 L365.9,-73.2 L366.6,-59.0 L367.2,-44.9 L367.8,-30.7 L368.4,-16.5 L369.1,-2.3 L369.7,11.8 L370.3,26.0 L371.2,100.0 L371.7,130.0 L372.4,140.0 L373.0,150.0 L373.8,156.2 L374.5,162.5 L375.1,163.9 L375.8,165.4 L376.4,166.3 L377.0,167.8 L377.6,169.3 L378.3,170.9 L378.9,171.4 L379.6,173.1 L380.2,174.6 L380.9,175.8 L381.5,177.5 L382.1,178.0 L382.8,180.1 L383.4,180.2 L384.0,181.2 L384.6,182.4 L385.2,184.3 L385.9,184.9 L386.5,185.6 L387.1,185.6 L387.7,187.0 L388.4,187.3 L389.0,187.0 L389.6,187.5 L390.2,188.7 L390.8,190.1 L391.5,190.3 L392.1,190.9 L392.7,191.1 L393.3,191.2 L394.0,192.5 L394.6,192.6 L395.3,192.5 L395.9,192.9 L396.6,193.6 L397.2,193.2 L397.9,194.1 L398.5,194.5 L399.2,194.8 L399.9,194.8 L400.5,195.8 L401.2,196.1 L401.8,195.2 L402.5,195.2 L403.1,196.7 L403.8,196.7 L404.4,196.1 L405.1,196.3 L405.7,196.8 L406.4,197.0 L407.0,196.2 L407.7,196.8 L408.3,196.8 L408.9,197.1 L409.6,198.2 L410.2,197.1 L410.8,197.7 L411.5,197.9 L412.1,198.6 L412.7,197.5 L413.4,197.6 L414.0,199.0 L414.6,199.0 L415.3,198.5 L415.9,199.2 L416.6,198.1 L417.2,199.1 L417.9,198.6 L418.5,198.1 L419.2,199.3 L419.8,198.8 L420.5,199.3 L421.1,199.0 L421.7,198.3 L422.4,198.5 L423.0,198.1 L423.7,198.9 L424.3,199.1 L425.0,199.2 L425.6,198.9 L426.3,198.9 L426.9,198.7 L427.5,199.3 L428.2,199.1 L428.8,198.9 L429.5,199.6 L430.1,198.1 L430.8,198.8 L431.4,198.4 L432.1,199.1 L432.7,198.6 L433.4,199.3 L434.0,198.7 L434.6,198.4 L435.3,198.5 L435.9,199.3 L436.5,199.6 L437.2,197.9 L437.8,198.6 L438.4,198.5 L439.1,199.6 L439.7,198.4 L440.3,198.6 L440.9,198.3 L441.6,199.1 L442.2,198.7 L442.8,199.2 L443.5,198.7 L444.1,199.4 L444.7,199.3 L445.4,198.5 L446.0,199.1 L446.6,198.2 L447.3,199.5 L447.9,198.3 L448.5,199.4 L449.2,198.6 L449.8,199.0 L450.4,199.0 L451.1,199.1 L451.7,199.2 L452.3,198.4 L452.9,199.0 L453.6,198.1 L454.2,199.4 L454.8,198.4 L455.5,198.1 L456.1,198.5 L456.7,199.2 L457.4,197.9 L458.0,198.1 L458.6,199.3 L459.3,198.2 L459.9,199.3 L460.5,198.5 L461.2,198.6 L461.8,199.3 L462.4,198.2 L463.1,198.5 L463.7,198.0 L464.3,198.9 L464.9,198.1 L465.6,198.6 L466.2,198.0 L466.8,198.3 L467.5,198.1 L468.1,198.3 L468.7,198.9 L469.4,198.0 L470.0,199.2 L470.6,198.6 L471.3,198.2 L471.9,198.4 L472.5,198.8 L473.1,198.3 L473.8,198.2 L474.4,198.0 L475.0,197.9 L475.6,198.6 L476.3,198.6 L476.9,198.0 L477.5,197.1 L478.1,197.6 L478.8,197.6 L479.4,198.0 L480.0,198.3 L480.7,197.6 L481.3,198.4 L481.9,197.2 L482.5,197.9 L483.2,197.6 L483.8,198.1 L484.4,197.0 L485.0,198.2 L485.7,198.3 L486.3,197.1 L486.9,197.0 L487.5,197.7 L488.2,198.0 L488.8,197.3 L489.4,197.9 L490.0,197.7 L490.7,196.8 L491.3,196.7 L491.9,196.9 L492.5,196.5 L493.1,197.5 L493.8,197.9 L494.4,196.8 L495.0,196.9 L495.6,196.2 L496.2,196.2 L496.9,196.5 L497.5,197.0 L498.1,196.7 L498.7,196.1 L499.4,196.9 L500.0,195.8 L500.6,196.2 L501.3,195.1 L501.9,195.7 L502.5,196.0 L503.2,195.3 L503.8,195.2 L504.4,195.6 L505.0,194.5 L505.6,194.7 L506.3,193.9 L506.9,193.5 L507.5,193.6 L508.1,193.0 L508.8,193.3 L509.4,191.8 L510.0,191.6 L510.7,191.0 L511.3,189.4 L512.0,189.2 L512.7,188.7 L513.4,186.5 L514.1,186.9 L514.7,184.6 L515.4,182.9 L516.0,180.9 L516.6,177.5 L517.2,175.1 L517.8,173.0 L518.5,168.9 L519.2,165.0 L520.0,159.9 L520.8,156.2 L521.5,151.5 L522.2,143.0 L522.9,134.6 L523.5,127.8 L524.2,120.3 L524.6,107.4 L525.1,101.0 L525.7,96.0 L526.2,90.0 L526.9,87.3 L527.6,84.4 L528.3,81.3 L529.0,87.2 L529.8,93.3 L530.3,96.0 L530.8,99.0 L531.4,102.8 L531.9,106.6 L532.5,112.2 L533.3,126.2 L534.0,133.3 L534.6,141.3 L535.3,148.1 L536.0,155.2 L536.5,161.0 L537.1,164.6 L537.8,169.5 L538.4,173.8 L539.0,177.4 L539.7,180.6 L540.3,184.6 L540.9,187.0 L541.6,188.8 L542.2,191.5 L542.9,192.8 L543.6,193.7 L544.3,195.3 L545.0,196.7 L545.6,197.0 L546.3,196.8 L547.0,197.6 L547.6,198.6 L548.2,197.5 L548.8,198.7 L549.5,198.5 L550.1,199.0 L550.7,199.2 L551.3,199.6 L551.9,199.0 L552.5,199.2 L553.2,198.9 L553.8,200.7 L554.4,200.7 L555.0,199.8 L555.6,200.3 L556.3,200.6 L556.9,200.6 L557.5,200.6 L558.1,201.3 L558.8,200.6 L559.4,200.7 L560.0,200.5 L560.7,201.7 L561.3,200.6 L562.0,201.6 L562.6,200.4 L563.2,200.5 L563.9,201.3 L564.5,200.6 L565.1,201.3 L565.8,201.9 L566.4,201.2 L567.0,200.9 L567.7,201.7 L568.3,201.9 L569.0,201.0 L569.6,200.9 L570.2,200.6 L570.9,202.2 L571.5,200.9 L572.1,201.7 L572.8,200.8 L573.4,201.0 L574.0,201.5 L574.7,201.1 L575.3,201.4 L576.0,201.2 L576.6,200.7 L577.2,201.5 L577.9,201.5 L578.5,200.7 L579.1,201.9 L579.8,200.9 L580.4,201.8 L581.1,201.8 L581.7,202.0 L582.3,201.8 L583.0,201.9 L583.6,200.8 L584.2,201.2 L584.9,201.7 L585.5,202.2 L586.1,202.3 L586.8,201.9 L587.4,200.9 L588.1,201.2 L588.7,201.7 L589.3,202.4 L590.0,202.1 L590.6,201.1 L591.2,201.9 L591.9,201.0 L592.5,202.1 L593.1,202.5 L593.8,202.2 L594.4,201.1 L595.1,201.3 L595.7,201.2 L596.3,201.7 L597.0,202.2 L597.6,201.9" fill="none" stroke="#ff14ff" stroke-width="1.3" stroke-linejoin="round"/>
<path d="M356.0,-300.0 L356.6,-286.4 L357.3,-272.8 L357.9,-259.2 L358.6,-245.7 L359.2,-232.1 L359.9,-218.5 L360.5,-204.9 L361.1,-191.3 L361.8,-177.8 L362.4,-164.2 L363.1,-150.6 L363.7,-137.0 L364.3,-123.4 L365.0,-109.8 L365.6,-96.2 L366.3,-82.7 L366.9,-69.1 L367.5,-55.5 L368.2,-41.9 L368.8,-28.3 L369.5,-14.8 L370.1,-1.2 L370.8,12.4 L371.4,26.0 L371.9,47.3 L372.5,68.7 L373.0,90.0 L373.4,105.0 L374.1,110.1 L374.8,115.7 L375.4,119.8 L376.0,123.6 L376.8,127.1 L377.5,130.1 L378.2,133.7 L379.0,136.1 L379.7,137.5 L380.3,139.7 L381.0,140.9 L381.7,142.7 L382.3,145.1 L383.0,146.6 L383.6,149.8 L384.2,151.3 L384.8,154.0 L385.4,154.8 L385.9,155.8 L386.5,158.6 L387.2,159.6 L388.0,162.1 L388.6,163.9 L389.2,164.3 L389.8,167.0 L390.3,168.6 L390.9,169.1 L391.5,171.5 L392.1,172.6 L392.8,173.3 L393.4,174.7 L394.0,175.6 L394.6,177.0 L395.2,178.5 L395.9,179.7 L396.5,180.1 L397.1,180.3 L397.8,181.9 L398.4,182.2 L399.0,182.6 L399.6,182.8 L400.3,183.5 L400.9,185.3 L401.5,185.3 L402.2,186.2 L402.8,187.2 L403.4,187.0 L404.0,188.8 L404.7,188.5 L405.3,188.8 L405.9,190.4 L406.5,191.0 L407.2,191.0 L407.8,191.2 L408.4,192.4 L409.0,191.7 L409.6,192.0 L410.3,193.5 L410.9,192.6 L411.5,193.0 L412.1,193.1 L412.8,193.8 L413.4,194.8 L414.0,195.0 L414.6,194.6 L415.2,195.6 L415.9,195.8 L416.5,195.6 L417.1,195.5 L417.7,196.5 L418.4,196.5 L419.0,196.8 L419.6,197.1 L420.2,196.9 L420.9,195.9 L421.5,197.1 L422.1,196.4 L422.8,196.0 L423.4,196.3 L424.0,196.5 L424.7,196.4 L425.3,197.2 L425.9,196.8 L426.5,196.7 L427.2,195.4 L427.8,195.9 L428.4,195.6 L429.0,195.0 L429.7,195.5 L430.3,194.9 L430.9,194.9 L431.5,195.2 L432.2,195.5 L432.8,195.1 L433.5,194.7 L434.1,195.8 L434.8,195.5 L435.4,195.6 L436.1,195.6 L436.8,195.9 L437.4,195.9 L438.1,195.4 L438.7,195.6 L439.4,195.5 L440.0,196.0 L440.6,195.5 L441.3,195.8 L441.9,195.7 L442.5,195.2 L443.2,196.8 L443.8,196.0 L444.4,196.0 L445.1,195.5 L445.7,197.0 L446.3,196.9 L446.9,195.8 L447.6,197.1 L448.2,196.9 L448.8,195.9 L449.5,196.6 L450.1,196.9 L450.7,196.3 L451.4,197.1 L452.0,196.7 L452.6,195.8 L453.3,195.8 L453.9,197.1 L454.5,197.3 L455.2,197.2 L455.8,196.4 L456.4,196.4 L457.1,196.7 L457.7,196.9 L458.3,196.7 L458.9,197.2 L459.6,197.1 L460.2,197.0 L460.8,197.2 L461.5,197.0 L462.1,196.4 L462.7,197.1 L463.4,196.8 L464.0,197.1 L464.6,196.6 L465.3,197.2 L465.9,197.6 L466.5,196.8 L467.2,196.6 L467.8,197.4 L468.4,197.3 L469.1,197.1 L469.7,196.7 L470.3,196.7 L470.9,197.9 L471.6,197.7 L472.2,196.6 L472.8,196.9 L473.5,197.8 L474.1,197.6 L474.7,197.6 L475.4,197.7 L476.0,197.1 L476.7,198.1 L477.3,196.9 L478.0,198.0 L478.6,197.1 L479.3,196.8 L479.9,197.2 L480.6,197.0 L481.2,197.4 L481.9,198.2 L482.5,198.2 L483.1,196.9 L483.7,196.7 L484.4,197.5 L485.0,197.0 L485.6,197.6 L486.2,196.9 L486.9,196.8 L487.5,196.8 L488.1,196.9 L488.7,198.0 L489.4,197.0 L490.0,197.0 L490.6,196.5 L491.2,197.5 L491.9,197.8 L492.5,196.8 L493.1,197.2 L493.7,197.0 L494.4,196.4 L495.0,196.9 L495.6,196.1 L496.2,196.8 L496.9,196.0 L497.5,196.4 L498.1,196.9 L498.7,197.1 L499.4,196.9 L500.0,196.8 L500.6,196.9 L501.2,196.6 L501.9,196.9 L502.5,196.2 L503.1,196.1 L503.7,195.3 L504.4,195.8 L505.0,195.4 L505.6,196.5 L506.2,196.3 L506.9,196.3 L507.5,195.6 L508.1,195.2 L508.8,196.0 L509.4,195.0 L510.0,194.9 L510.6,195.2 L511.3,195.5 L511.9,194.9 L512.5,195.1 L513.1,194.4 L513.8,195.6 L514.4,195.5 L515.0,194.3 L515.6,194.5 L516.3,194.9 L516.9,194.2 L517.5,194.1 L518.1,195.5 L518.8,195.2 L519.4,195.1 L520.0,194.3 L520.6,195.2 L521.3,195.1 L521.9,194.6 L522.5,194.5 L523.1,194.7 L523.8,195.0 L524.4,195.9 L525.0,194.8 L525.6,195.9 L526.3,195.2 L526.9,196.4 L527.5,196.1 L528.1,196.1 L528.8,195.7 L529.4,196.3 L530.0,196.7 L530.6,196.7 L531.2,195.0 L531.9,196.3 L532.5,195.3 L533.1,195.9 L533.8,196.1 L534.4,196.1 L535.0,195.2 L535.6,195.0 L536.2,196.0 L536.9,195.1 L537.5,195.7 L538.1,194.6 L538.7,195.8 L539.4,195.9 L540.0,195.4 L540.6,196.1 L541.2,194.9 L541.9,195.4 L542.5,195.7 L543.1,195.8 L543.7,195.5 L544.4,195.2 L545.0,194.2 L545.6,194.0 L546.3,194.4 L546.9,195.0 L547.5,193.9 L548.2,193.6 L548.8,193.1 L549.4,193.8 L550.0,192.8 L550.7,192.0 L551.3,191.8 L551.9,192.2 L552.5,191.5 L553.2,190.7 L553.8,189.4 L554.4,190.6 L555.0,189.1 L555.6,188.6 L556.2,187.7 L556.9,187.1 L557.5,187.5 L558.1,186.0 L558.7,184.2 L559.2,182.7 L559.8,180.0 L560.4,177.9 L561.0,176.1 L561.7,173.0 L562.3,169.6 L563.0,164.5 L563.8,160.5 L564.5,152.7 L565.1,147.2 L565.7,140.2 L566.2,134.6 L566.8,129.4 L567.4,124.8 L567.9,120.0 L568.8,115.8 L569.2,103.7 L569.9,97.8 L570.6,91.2 L571.2,87.4 L571.7,84.2 L572.2,84.8 L572.7,84.1 L573.2,82.5 L573.8,81.6 L574.3,85.1 L574.8,87.0 L575.3,88.6 L575.8,90.6 L576.3,95.3 L576.9,101.4 L577.5,107.1 L578.0,113.1 L578.5,116.7 L579.0,120.5 L579.5,127.6 L580.0,135.6 L580.5,142.3 L581.0,150.7 L581.5,155.6 L582.0,160.7 L582.8,167.2 L583.5,172.8 L584.1,176.9 L584.7,181.2 L585.3,185.8 L585.9,189.2 L586.6,191.7 L587.2,193.3 L587.9,195.1 L588.6,196.1 L589.3,197.2 L590.0,197.5 L590.6,197.7 L591.3,198.1 L591.9,199.0 L592.5,198.9 L593.2,199.5 L593.8,200.2 L594.4,200.1 L595.1,200.8 L595.7,201.5 L596.3,201.4 L597.0,201.4 L597.6,202.2" fill="none" stroke="#ff8c1a" stroke-width="1.3" stroke-linejoin="round"/>
</g>
<rect x="356.00" y="25.50" width="241.50" height="177.60" fill="none" stroke="#888" stroke-width="1"/>
<path d="M356.00,203.10v3M356.00,25.50v3M362.36,203.10v2M362.36,25.50v2M368.71,203.10v2M368.71,25.50v2M375.07,203.10v2M375.07,25.50v2M381.42,203.10v2M381.42,25.50v2M387.78,203.10v3M387.78,25.50v3M394.13,203.10v2M394.13,25.50v2M400.49,203.10v2M400.49,25.50v2M406.84,203.10v2M406.84,25.50v2M413.20,203.10v2M413.20,25.50v2M419.55,203.10v3M419.55,25.50v3M425.91,203.10v2M425.91,25.50v2M432.26,203.10v2M432.26,25.50v2M438.62,203.10v2M438.62,25.50v2M444.97,203.10v2M444.97,25.50v2M451.33,203.10v3M451.33,25.50v3M457.68,203.10v2M457.68,25.50v2M464.04,203.10v2M464.04,25.50v2M470.39,203.10v2M470.39,25.50v2M476.75,203.10v2M476.75,25.50v2M483.11,203.10v3M483.11,25.50v3M489.46,203.10v2M489.46,25.50v2M495.82,203.10v2M495.82,25.50v2M502.17,203.10v2M502.17,25.50v2M508.53,203.10v2M508.53,25.50v2M514.88,203.10v3M514.88,25.50v3M521.24,203.10v2M521.24,25.50v2M527.59,203.10v2M527.59,25.50v2M533.95,203.10v2M533.95,25.50v2M540.30,203.10v2M540.30,25.50v2M546.66,203.10v3M546.66,25.50v3M553.01,203.10v2M553.01,25.50v2M559.37,203.10v2M559.37,25.50v2M565.72,203.10v2M565.72,25.50v2M572.08,203.10v2M572.08,25.50v2M578.43,203.10v3M578.43,25.50v3M584.79,203.10v2M584.79,25.50v2M591.14,203.10v2M591.14,25.50v2M597.50,203.10v2M597.50,25.50v2M356.00,203.10h-3M597.50,203.10h-3M356.00,198.36h-2M597.50,198.36h-2M356.00,193.63h-2M597.50,193.63h-2M356.00,188.89h-2M597.50,188.89h-2M356.00,184.16h-2M597.50,184.16h-2M356.00,179.42h-3M597.50,179.42h-3M356.00,174.68h-2M597.50,174.68h-2M356.00,169.95h-2M597.50,169.95h-2M356.00,165.21h-2M597.50,165.21h-2M356.00,160.48h-2M597.50,160.48h-2M356.00,155.74h-3M597.50,155.74h-3M356.00,151.00h-2M597.50,151.00h-2M356.00,146.27h-2M597.50,146.27h-2M356.00,141.53h-2M597.50,141.53h-2M356.00,136.80h-2M597.50,136.80h-2M356.00,132.06h-3M597.50,132.06h-3M356.00,127.32h-2M597.50,127.32h-2M356.00,122.59h-2M597.50,122.59h-2M356.00,117.85h-2M597.50,117.85h-2M356.00,113.12h-2M597.50,113.12h-2M356.00,108.38h-3M597.50,108.38h-3M356.00,103.64h-2M597.50,103.64h-2M356.00,98.91h-2M597.50,98.91h-2M356.00,94.17h-2M597.50,94.17h-2M356.00,89.44h-2M597.50,89.44h-2M356.00,84.70h-3M597.50,84.70h-3M356.00,79.96h-2M597.50,79.96h-2M356.00,75.23h-2M597.50,75.23h-2M356.00,70.49h-2M597.50,70.49h-2M356.00,65.76h-2M597.50,65.76h-2M356.00,61.02h-3M597.50,61.02h-3M356.00,56.28h-2M597.50,56.28h-2M356.00,51.55h-2M597.50,51.55h-2M356.00,46.81h-2M597.50,46.81h-2M356.00,42.08h-2M597.50,42.08h-2M356.00,37.34h-3M597.50,37.34h-3M356.00,32.60h-2M597.50,32.60h-2M356.00,27.87h-2M597.50,27.87h-2" stroke="#333" stroke-width="0.9" fill="none"/>
<text x="356.00" y="219.40" font-size="10.9" text-anchor="middle">0</text>
<text x="387.78" y="219.40" font-size="10.9" text-anchor="middle">50</text>
<text x="419.55" y="219.40" font-size="10.9" text-anchor="middle">100</text>
<text x="451.33" y="219.40" font-size="10.9" text-anchor="middle">150</text>
<text x="483.11" y="219.40" font-size="10.9" text-anchor="middle">200</text>
<text x="514.88" y="219.40" font-size="10.9" text-anchor="middle">250</text>
<text x="546.66" y="219.40" font-size="10.9" text-anchor="middle">300</text>
<text x="578.43" y="219.40" font-size="10.9" text-anchor="middle">350</text>
<text x="350.00" y="207.40" font-size="10.9" text-anchor="end">0</text>
<text x="350.00" y="183.72" font-size="10.9" text-anchor="end">200</text>
<text x="350.00" y="160.04" font-size="10.9" text-anchor="end">400</text>
<text x="350.00" y="136.36" font-size="10.9" text-anchor="end">600</text>
<text x="350.00" y="112.68" font-size="10.9" text-anchor="end">800</text>
<text x="350.00" y="89.00" font-size="10.9" text-anchor="end">1000</text>
<text x="350.00" y="65.32" font-size="10.9" text-anchor="end">1200</text>
<text x="350.00" y="41.64" font-size="10.9" text-anchor="end">1400</text>
<text x="2.4" y="28.3" font-size="11.9" style="stroke-width:0.1px">(a)</text>
<text x="22.8" y="28.7" font-size="14" style="stroke-width:0.1px">SBSA</text>
<text x="305.7" y="15.6" font-size="11.9" style="stroke-width:0.1px">(b)</text>
<text x="326.5" y="15.4" font-size="14.8" style="stroke-width:0.1px">SP3</text>
<text x="166.55" y="237.9" font-size="10.5" text-anchor="middle" textLength="70.6" lengthAdjust="spacingAndGlyphs">Digital number</text>
<text x="476.35" y="236.9" font-size="10.8" text-anchor="middle" textLength="73.6" lengthAdjust="spacingAndGlyphs">Digital number</text>
<text transform="translate(10.0,128.1) rotate(-90)" font-size="9.8" text-anchor="middle" textLength="135" lengthAdjust="spacing">Normalized frequency (a.u.)</text>
<text transform="translate(310.9,121) rotate(-90)" font-size="10.3" text-anchor="middle" textLength="143" lengthAdjust="spacing">Normalized frequency (a.u.)</text>
<rect x="136.7" y="14.5" width="149.90000000000003" height="60.099999999999994" fill="#fff" stroke="#999" stroke-width="0.9"/>
<text x="146.7" y="24.7" font-size="9.6" textLength="63.3" lengthAdjust="spacingAndGlyphs">Photon energy</text>
<line x1="146.2" y1="32.7" x2="168.2" y2="32.7" stroke="#141414" stroke-width="1.4"/>
<text x="170.6" y="36.0" font-size="9.6" word-spacing="0.9">92 eV</text>
<line x1="146.2" y1="44.4" x2="168.2" y2="44.4" stroke="#ff1a1a" stroke-width="1.4"/>
<text x="170.6" y="47.699999999999996" font-size="9.6" word-spacing="0.9">200 eV</text>
<line x1="146.2" y1="55.9" x2="168.2" y2="55.9" stroke="#1ee61e" stroke-width="1.4"/>
<text x="170.6" y="59.199999999999996" font-size="9.6" word-spacing="0.9">320 eV</text>
<line x1="146.2" y1="67.4" x2="168.2" y2="67.4" stroke="#1a1aff" stroke-width="1.4"/>
<text x="170.6" y="70.7" font-size="9.6" word-spacing="0.9">450 eV</text>
<line x1="215.8" y1="32.7" x2="237.8" y2="32.7" stroke="#14ebff" stroke-width="1.4"/>
<text x="240.20000000000002" y="36.0" font-size="9.6" word-spacing="0.9">600 eV</text>
<line x1="215.8" y1="44.4" x2="237.8" y2="44.4" stroke="#ff14ff" stroke-width="1.4"/>
<text x="240.20000000000002" y="47.699999999999996" font-size="9.6" word-spacing="0.9">800 eV</text>
<line x1="215.8" y1="55.9" x2="237.8" y2="55.9" stroke="#ff8c1a" stroke-width="1.4"/>
<text x="240.20000000000002" y="59.199999999999996" font-size="9.6" word-spacing="0.9">1000 eV</text>
<rect x="444.8" y="1.2" width="157.8" height="61.8" fill="#fff" stroke="#999" stroke-width="0.9"/>
<text x="455.4" y="11.2" font-size="10.1" textLength="67.5" lengthAdjust="spacingAndGlyphs">Photon energy</text>
<line x1="454.7" y1="20.3" x2="477.4" y2="20.3" stroke="#141414" stroke-width="1.5"/>
<text x="480.59999999999997" y="23.6" font-size="10.1" word-spacing="1.3">92 eV</text>
<line x1="454.7" y1="32.4" x2="477.4" y2="32.4" stroke="#ff1a1a" stroke-width="1.5"/>
<text x="480.59999999999997" y="35.699999999999996" font-size="10.1" word-spacing="1.3">200 eV</text>
<line x1="454.7" y1="44.7" x2="477.4" y2="44.7" stroke="#1ee61e" stroke-width="1.5"/>
<text x="480.59999999999997" y="48.0" font-size="10.1" word-spacing="1.3">320 eV</text>
<line x1="454.7" y1="56.8" x2="477.4" y2="56.8" stroke="#1a1aff" stroke-width="1.5"/>
<text x="480.59999999999997" y="60.099999999999994" font-size="10.1" word-spacing="1.3">450 eV</text>
<line x1="528.8" y1="20.3" x2="551.5" y2="20.3" stroke="#14ebff" stroke-width="1.5"/>
<text x="554.7" y="23.6" font-size="10.1" word-spacing="1.3">600 eV</text>
<line x1="528.8" y1="32.4" x2="551.5" y2="32.4" stroke="#ff14ff" stroke-width="1.5"/>
<text x="554.7" y="35.699999999999996" font-size="10.1" word-spacing="1.3">800 eV</text>
<line x1="528.8" y1="44.7" x2="551.5" y2="44.7" stroke="#ff8c1a" stroke-width="1.5"/>
<text x="554.7" y="48.0" font-size="10.1" word-spacing="1.3">1000 eV</text>
</svg>
</body></html>
